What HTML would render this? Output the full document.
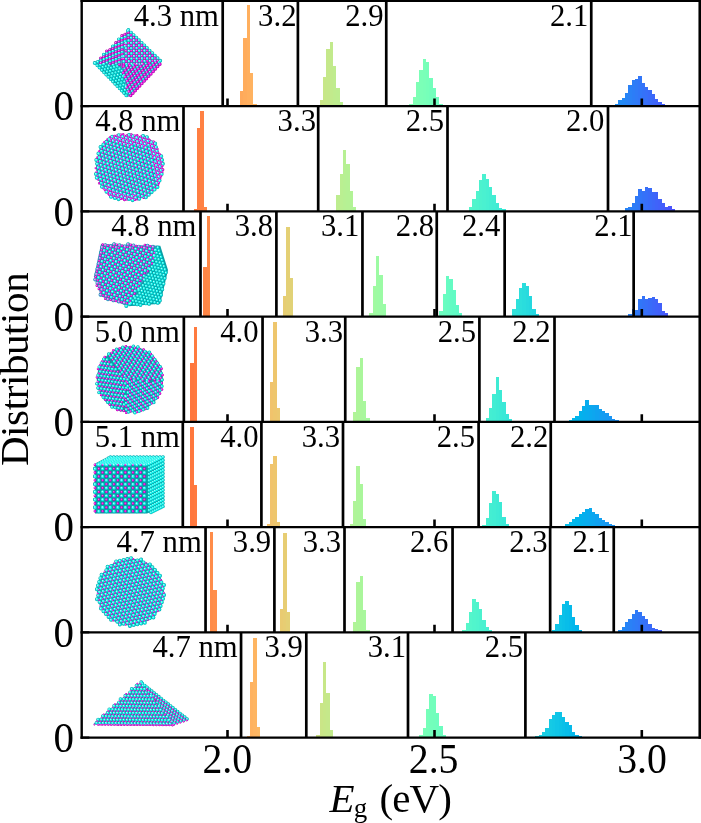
<!DOCTYPE html>
<html lang="en"><head><meta charset="utf-8"><title>Eg distribution</title>
<style>html,body{margin:0;padding:0;background:#fff}svg{display:block}text{font-family:"Liberation Serif","Times New Roman",serif;fill:#000}</style></head><body>
<svg width="701" height="823" viewBox="0 0 701 823">
<rect width="701" height="823" fill="#fff"/>
<g id="crystals">
<defs><path id="a0" d="M95.1 63.2h0M97.3 65.5h0M100.4 64.7h0M103.5 64h0M99.5 67.8h0M102.7 67h0M105.8 66.3h0M108.9 65.5h0M101.8 70.1h0M104.9 69.3h0M108 68.6h0M111.1 67.8h0M114.2 67h0M117.3 66.2h0M104 72.4h0M107.1 71.6h0M110.2 70.9h0M113.3 70.1h0M116.4 69.3h0M119.5 68.5h0M106.2 74.7h0M109.3 73.9h0M112.4 73.2h0M115.5 72.4h0M118.6 71.6h0M121.7 70.8h0M108.4 77h0M111.5 76.2h0M114.6 75.5h0M117.8 74.7h0M120.9 73.9h0M110.7 79.3h0M113.8 78.5h0M116.9 77.8h0M120 77h0M123.1 76.2h0M112.9 81.6h0M116 80.8h0M119.1 80.1h0M122.2 79.3h0M115.1 83.9h0M118.2 83.1h0M121.3 82.4h0M124.4 81.6h0M117.3 86.2h0M120.4 85.4h0M123.5 84.7h0M119.6 88.5h0M122.7 87.7h0M125.8 87h0M121.8 90.8h0M124.9 90h0M124 93.1h0M127.1 92.4h0M126.2 95.4h0"/><path id="a1" d="M94.6 62.9h0M97.7 61.7h0M100.7 60.4h0M103.9 63.8h0M103.8 59.2h0M106.9 62.6h0M103.7 54.6h0M106.8 58h0M110 61.3h0M113.1 64.7h0M106.8 53.4h0M109.9 56.7h0M113 60.1h0M116.2 63.5h0M109.8 52.1h0M113 55.5h0M116.1 58.9h0M119.2 62.2h0M112.9 50.9h0M116 54.2h0M119.2 57.6h0M112.8 46.3h0M115.9 49.6h0M119.1 53h0M122.2 56.4h0M115.9 45h0M119 48.4h0M122.1 51.8h0M118.9 43.8h0M122.1 47.2h0M118.8 39.2h0M122 42.6h0M125.1 45.9h0M121.9 38h0M125 41.3h0M125 36.7h0M127.9 30.9h0"/><path id="a2" d="M100.8 62.7h0M100.7 58.1h0M103.8 61.5h0M103.7 56.9h0M106.9 60.3h0M110 63.6h0M106.8 55.7h0M109.9 59h0M113.1 62.4h0M106.7 51h0M109.9 54.4h0M113 57.8h0M116.1 61.2h0M119.3 64.5h0M109.8 49.8h0M112.9 53.2h0M116.1 56.5h0M119.2 59.9h0M112.8 48.6h0M116 51.9h0M119.1 55.3h0M122.3 58.7h0M115.9 47.3h0M119 50.7h0M122.2 54.1h0M115.8 42.7h0M119 46.1h0M122.1 49.5h0M118.9 41.5h0M122 44.9h0M121.9 40.3h0M125.1 43.6h0M121.9 35.7h0M125 39h0M124.9 34.4h0"/><path id="a3" d="M128.4 29.9h0M131.1 32.5h0M128.5 35.1h0M133.7 35h0M131.2 37.7h0M128.6 40.4h0M126 43h0M136.4 37.6h0M133.8 40.3h0M131.2 42.9h0M128.7 45.6h0M126.1 48.3h0M139 40.2h0M136.5 42.8h0M133.9 45.5h0M131.3 48.2h0M128.8 50.8h0M126.2 53.5h0M123.6 56.2h0M141.7 42.8h0M139.1 45.4h0M136.6 48.1h0M134 50.7h0M131.4 53.4h0M128.9 56.1h0M126.3 58.7h0M123.7 61.4h0M144.4 45.3h0M141.8 48h0M139.2 50.6h0M136.7 53.3h0M134.1 56h0M131.5 58.6h0M128.9 61.3h0M126.4 64h0M147 47.9h0M144.5 50.6h0M141.9 53.2h0M139.3 55.9h0M136.7 58.5h0M134.2 61.2h0M131.6 63.9h0M149.7 50.5h0M147.1 53.1h0M144.6 55.8h0M142 58.4h0M139.4 61.1h0M136.8 63.8h0M152.4 53h0M149.8 55.7h0M147.2 58.4h0M144.6 61h0M142.1 63.7h0M155 55.6h0M152.4 58.3h0M149.9 60.9h0M157.7 58.2h0M155.1 60.8h0M160.3 60.7h0"/><path id="a4" d="M128.4 32.5h0M131.1 35.1h0M128.5 37.7h0M133.8 37.7h0M131.2 40.3h0M128.6 43h0M126.1 45.6h0M136.4 40.2h0M133.9 42.9h0M131.3 45.5h0M128.7 48.2h0M126.1 50.9h0M139.1 42.8h0M136.5 45.5h0M134 48.1h0M131.4 50.8h0M128.8 53.4h0M126.2 56.1h0M123.7 58.8h0M141.8 45.4h0M139.2 48h0M136.6 50.7h0M134 53.4h0M131.5 56h0M128.9 58.7h0M126.3 61.3h0M123.8 64h0M144.4 47.9h0M141.8 50.6h0M139.3 53.3h0M136.7 55.9h0M134.1 58.6h0M131.6 61.2h0M129 63.9h0M147.1 50.5h0M144.5 53.2h0M141.9 55.8h0M139.4 58.5h0M136.8 61.2h0M134.2 63.8h0M149.7 53.1h0M147.2 55.7h0M144.6 58.4h0M142 61.1h0M139.5 63.7h0M152.4 55.6h0M149.8 58.3h0M147.3 61h0M155.1 58.2h0M152.5 60.9h0M157.7 60.8h0"/><path id="a5" d="M129.7 93.6h0M127.7 89.5h0M131.9 91.1h0M125.8 85.4h0M130 87.1h0M134.2 88.7h0M128 83h0M132.2 84.7h0M136.4 86.3h0M126.1 78.9h0M130.3 80.6h0M134.5 82.2h0M138.7 83.9h0M124.1 74.9h0M128.3 76.5h0M132.5 78.2h0M136.7 79.8h0M140.9 81.5h0M126.4 72.4h0M130.6 74.1h0M134.8 75.8h0M139 77.4h0M143.2 79.1h0M124.4 68.4h0M128.6 70h0M132.8 71.7h0M137 73.3h0M141.2 75h0M145.4 76.7h0M126.7 66h0M130.9 67.6h0M135.1 69.3h0M139.3 70.9h0M143.5 72.6h0M147.7 74.2h0M133.1 65.2h0M137.3 66.9h0M141.5 68.5h0M145.7 70.2h0M149.9 71.8h0M139.6 64.4h0M143.8 66.1h0M148 67.8h0M152.2 69.4h0M146 63.7h0M150.2 65.3h0M154.4 67h0M152.5 62.9h0M156.7 64.6h0M158.9 62.2h0"/><path id="a6" d="M130.7 95.6h0M128.7 91.5h0M132.9 93.2h0M126.8 87.4h0M131 89.1h0M135.2 90.8h0M129 85h0M133.2 86.7h0M137.4 88.3h0M127.1 81h0M131.3 82.6h0M135.5 84.3h0M139.7 85.9h0M125.1 76.9h0M129.3 78.5h0M133.5 80.2h0M137.7 81.9h0M141.9 83.5h0M123.2 72.8h0M127.4 74.5h0M131.6 76.1h0M135.8 77.8h0M140 79.4h0M144.2 81.1h0M125.4 70.4h0M129.6 72.1h0M133.8 73.7h0M138 75.4h0M142.2 77h0M146.4 78.7h0M123.5 66.3h0M127.7 68h0M131.9 69.6h0M136.1 71.3h0M140.3 73h0M144.5 74.6h0M148.7 76.3h0M129.9 65.6h0M134.1 67.2h0M138.3 68.9h0M142.5 70.6h0M146.7 72.2h0M150.9 73.9h0M136.4 64.8h0M140.6 66.5h0M144.8 68.1h0M149 69.8h0M153.2 71.5h0M142.8 64.1h0M147 65.7h0M151.2 67.4h0M155.4 69h0M149.3 63.3h0M153.5 65h0M157.7 66.6h0M155.7 62.6h0M159.9 64.2h0"/></defs>
<polygon points="128.4,29.9 161.5,61.8 128.4,97.0 95.6,62.9" fill="#7a78d0"/>
<polygon points="95.0,63.2 121.0,66.4 128.1,97.6" fill="#09a2a8"/>
<g fill="none" stroke-linecap="round">
<use href="#a0" stroke="#09a2a8" stroke-width="3.6"/>
<use href="#a1" stroke="#09a2a8" stroke-width="3.6"/>
<use href="#a2" stroke="#a40aa4" stroke-width="3.2"/>
<use href="#a3" stroke="#09a2a8" stroke-width="3.7"/>
<use href="#a4" stroke="#a40aa4" stroke-width="3.2"/>
<use href="#a5" stroke="#09a2a8" stroke-width="3.1"/>
<use href="#a6" stroke="#a40aa4" stroke-width="3.5"/>
<use href="#a0" stroke="#12f4ec" stroke-width="2.5"/>
<use href="#a1" stroke="#12f4ec" stroke-width="2.5"/>
<use href="#a2" stroke="#ee0ce2" stroke-width="2.1"/>
<use href="#a3" stroke="#12f4ec" stroke-width="2.6"/>
<use href="#a4" stroke="#ee0ce2" stroke-width="2.1"/>
<use href="#a5" stroke="#12f4ec" stroke-width="2.0"/>
<use href="#a6" stroke="#ee0ce2" stroke-width="2.4"/>
<use href="#a0" transform="translate(-.3 -.3)" stroke="#b8fffa" stroke-width="1.2"/>
<use href="#a1" transform="translate(-.3 -.3)" stroke="#b8fffa" stroke-width="1.2"/>
<use href="#a2" transform="translate(-.3 -.3)" stroke="#ff98f4" stroke-width="1.1"/>
<use href="#a3" transform="translate(-.3 -.3)" stroke="#b8fffa" stroke-width="1.3"/>
<use href="#a4" transform="translate(-.3 -.3)" stroke="#ff98f4" stroke-width="1.1"/>
<use href="#a5" transform="translate(-.3 -.3)" stroke="#b8fffa" stroke-width="1.0"/>
<use href="#a6" transform="translate(-.3 -.3)" stroke="#ff98f4" stroke-width="1.2"/>
</g>
<defs><path id="b0" d="M96 174h0M96.8 177.8h0M96.4 160h0M97.2 163.8h0M98.1 167.6h0M98.9 171.4h0M99.7 175.2h0M100.5 179h0M101.3 182.9h0M102.1 186.7h0M98.5 153.5h0M99.3 157.4h0M100.1 161.2h0M100.9 165h0M101.8 168.8h0M102.6 172.6h0M103.4 176.4h0M104.2 180.2h0M105 184.1h0M105.8 187.9h0M106.6 191.7h0M100.6 147.1h0M101.4 150.9h0M102.2 154.7h0M103 158.6h0M103.8 162.4h0M104.7 166.2h0M105.5 170h0M106.3 173.8h0M107.1 177.6h0M107.9 181.5h0M108.7 185.3h0M109.5 189.1h0M110.3 192.9h0M111.1 196.7h0M103.5 144.5h0M104.3 148.3h0M105.1 152.1h0M105.9 156h0M106.7 159.8h0M107.6 163.6h0M108.4 167.4h0M109.2 171.2h0M110 175h0M110.8 178.8h0M111.6 182.7h0M112.4 186.5h0M113.2 190.3h0M114 194.1h0M114.9 197.9h0M106.4 141.9h0M107.2 145.7h0M108 149.5h0M108.8 153.3h0M109.6 157.2h0M110.5 161h0M111.3 164.8h0M112.1 168.6h0M112.9 172.4h0M113.7 176.2h0M114.5 180h0M115.3 183.9h0M116.1 187.7h0M116.9 191.5h0M117.8 195.3h0M118.6 199.1h0M109.3 139.3h0M110.1 143.1h0M110.9 146.9h0M111.7 150.7h0M112.5 154.5h0M113.4 158.4h0M114.2 162.2h0M115 166h0M115.8 169.8h0M116.6 173.6h0M117.4 177.4h0M118.2 181.3h0M119 185.1h0M119.8 188.9h0M120.7 192.7h0M121.5 196.5h0M112.2 136.7h0M113 140.5h0M113.8 144.3h0M114.6 148.1h0M115.4 151.9h0M116.3 155.8h0M117.1 159.6h0M117.9 163.4h0M118.7 167.2h0M119.5 171h0M120.3 174.8h0M121.1 178.6h0M121.9 182.5h0M122.7 186.3h0M123.5 190.1h0M124.4 193.9h0M125.2 197.7h0M115.9 137.9h0M116.7 141.7h0M117.5 145.5h0M118.3 149.3h0M119.1 153.1h0M120 157h0M120.8 160.8h0M121.6 164.6h0M122.4 168.4h0M123.2 172.2h0M124 176h0M124.8 179.8h0M125.6 183.7h0M126.4 187.5h0M127.3 191.3h0M128.1 195.1h0M128.9 198.9h0M118.8 135.3h0M119.6 139.1h0M120.4 142.9h0M121.2 146.7h0M122 150.5h0M122.9 154.4h0M123.7 158.2h0M124.5 162h0M125.3 165.8h0M126.1 169.6h0M126.9 173.4h0M127.7 177.2h0M128.5 181.1h0M129.3 184.9h0M130.2 188.7h0M131 192.5h0M131.8 196.3h0M132.6 200.1h0M122.5 136.5h0M123.3 140.3h0M124.1 144.1h0M124.9 147.9h0M125.8 151.7h0M126.6 155.6h0M127.4 159.4h0M128.2 163.2h0M129 167h0M129.8 170.8h0M130.6 174.6h0M131.4 178.4h0M132.2 182.3h0M133.1 186.1h0M133.9 189.9h0M134.7 193.7h0M135.5 197.5h0M126.2 137.7h0M127 141.5h0M127.8 145.3h0M128.7 149.1h0M129.5 152.9h0M130.3 156.8h0M131.1 160.6h0M131.9 164.4h0M132.7 168.2h0M133.5 172h0M134.3 175.8h0M135.1 179.6h0M136 183.5h0M136.8 187.3h0M137.6 191.1h0M138.4 194.9h0M139.2 198.7h0M129.1 135.1h0M129.9 138.9h0M130.7 142.7h0M131.6 146.5h0M132.4 150.3h0M133.2 154.2h0M134 158h0M134.8 161.8h0M135.6 165.6h0M136.4 169.4h0M137.2 173.2h0M138 177h0M138.9 180.9h0M139.7 184.7h0M140.5 188.5h0M141.3 192.3h0M142.1 196.1h0M132.8 136.3h0M133.6 140.1h0M134.5 143.9h0M135.3 147.7h0M136.1 151.5h0M136.9 155.4h0M137.7 159.2h0M138.5 163h0M139.3 166.8h0M140.1 170.6h0M140.9 174.4h0M141.7 178.2h0M142.6 182.1h0M143.4 185.9h0M144.2 189.7h0M145 193.5h0M145.8 197.3h0M136.5 137.5h0M137.3 141.3h0M138.2 145.1h0M139 148.9h0M139.8 152.7h0M140.6 156.6h0M141.4 160.4h0M142.2 164.2h0M143 168h0M143.8 171.8h0M144.6 175.6h0M145.5 179.5h0M146.3 183.3h0M147.1 187.1h0M147.9 190.9h0M148.7 194.7h0M140.2 138.7h0M141.1 142.5h0M141.9 146.3h0M142.7 150.1h0M143.5 154h0M144.3 157.8h0M145.1 161.6h0M145.9 165.4h0M146.7 169.2h0M147.5 173h0M148.4 176.8h0M149.2 180.7h0M150 184.5h0M150.8 188.3h0M151.6 192.1h0M143.1 136.1h0M144 139.9h0M144.8 143.7h0M145.6 147.5h0M146.4 151.3h0M147.2 155.2h0M148 159h0M148.8 162.8h0M149.6 166.6h0M150.4 170.4h0M151.3 174.2h0M152.1 178h0M152.9 181.9h0M153.7 185.7h0M154.5 189.5h0M146.9 137.3h0M147.7 141.1h0M148.5 144.9h0M149.3 148.7h0M150.1 152.5h0M150.9 156.4h0M151.7 160.2h0M152.5 164h0M153.3 167.8h0M154.2 171.6h0M155 175.4h0M155.8 179.3h0M156.6 183.1h0M157.4 186.9h0M151.4 142.3h0M152.2 146.1h0M153 149.9h0M153.8 153.8h0M154.6 157.6h0M155.4 161.4h0M156.2 165.2h0M157.1 169h0M157.9 172.8h0M158.7 176.6h0M159.5 180.5h0M155.1 143.5h0M155.9 147.3h0M156.7 151.1h0M157.5 155h0M158.3 158.8h0M159.1 162.6h0M159.9 166.4h0M160.8 170.2h0M161.6 174h0M161.2 156.2h0M162 160h0M162.8 163.8h0"/><path id="b1" d="M95.8 168.1h0M96.7 171.9h0M97.5 175.7h0M98.3 179.5h0M99.1 183.3h0M97.1 157.8h0M97.9 161.6h0M98.7 165.5h0M99.6 169.3h0M100.4 173.1h0M101.2 176.9h0M102 180.7h0M102.8 184.5h0M103.6 188.3h0M99.2 151.4h0M100 155.2h0M100.8 159h0M101.6 162.8h0M102.5 166.7h0M103.3 170.5h0M104.1 174.3h0M104.9 178.1h0M105.7 181.9h0M106.5 185.7h0M107.3 189.6h0M108.1 193.4h0M102.1 148.8h0M102.9 152.6h0M103.7 156.4h0M104.5 160.2h0M105.4 164.1h0M106.2 167.9h0M107 171.7h0M107.8 175.5h0M108.6 179.3h0M109.4 183.1h0M110.2 186.9h0M111 190.8h0M111.8 194.6h0M104.2 142.4h0M105 146.2h0M105.8 150h0M106.6 153.8h0M107.4 157.6h0M108.3 161.4h0M109.1 165.3h0M109.9 169.1h0M110.7 172.9h0M111.5 176.7h0M112.3 180.5h0M113.1 184.3h0M113.9 188.1h0M114.7 192h0M115.5 195.8h0M107.1 139.8h0M107.9 143.6h0M108.7 147.4h0M109.5 151.2h0M110.3 155h0M111.2 158.8h0M112 162.6h0M112.8 166.5h0M113.6 170.3h0M114.4 174.1h0M115.2 177.9h0M116 181.7h0M116.8 185.5h0M117.6 189.4h0M118.4 193.2h0M119.3 197h0M110 137.1h0M110.8 141h0M111.6 144.8h0M112.4 148.6h0M113.2 152.4h0M114 156.2h0M114.9 160h0M115.7 163.9h0M116.5 167.7h0M117.3 171.5h0M118.1 175.3h0M118.9 179.1h0M119.7 182.9h0M120.5 186.7h0M121.3 190.6h0M122.2 194.4h0M123 198.2h0M113.7 138.4h0M114.5 142.2h0M115.3 146h0M116.1 149.8h0M116.9 153.6h0M117.8 157.4h0M118.6 161.2h0M119.4 165.1h0M120.2 168.9h0M121 172.7h0M121.8 176.5h0M122.6 180.3h0M123.4 184.1h0M124.2 187.9h0M125.1 191.8h0M125.9 195.6h0M126.7 199.4h0M116.6 135.7h0M117.4 139.6h0M118.2 143.4h0M119 147.2h0M119.8 151h0M120.7 154.8h0M121.5 158.6h0M122.3 162.4h0M123.1 166.3h0M123.9 170.1h0M124.7 173.9h0M125.5 177.7h0M126.3 181.5h0M127.1 185.3h0M128 189.2h0M128.8 193h0M129.6 196.8h0M120.3 136.9h0M121.1 140.8h0M121.9 144.6h0M122.7 148.4h0M123.6 152.2h0M124.4 156h0M125.2 159.8h0M126 163.7h0M126.8 167.5h0M127.6 171.3h0M128.4 175.1h0M129.2 178.9h0M130 182.7h0M130.9 186.5h0M131.7 190.4h0M132.5 194.2h0M133.3 198h0M123.2 134.3h0M124 138.2h0M124.8 142h0M125.6 145.8h0M126.5 149.6h0M127.3 153.4h0M128.1 157.2h0M128.9 161h0M129.7 164.9h0M130.5 168.7h0M131.3 172.5h0M132.1 176.3h0M132.9 180.1h0M133.8 183.9h0M134.6 187.7h0M135.4 191.6h0M136.2 195.4h0M137 199.2h0M126.9 135.5h0M127.7 139.4h0M128.5 143.2h0M129.4 147h0M130.2 150.8h0M131 154.6h0M131.8 158.4h0M132.6 162.2h0M133.4 166.1h0M134.2 169.9h0M135 173.7h0M135.8 177.5h0M136.6 181.3h0M137.5 185.1h0M138.3 189h0M139.1 192.8h0M139.9 196.6h0M130.6 136.8h0M131.4 140.6h0M132.2 144.4h0M133.1 148.2h0M133.9 152h0M134.7 155.8h0M135.5 159.6h0M136.3 163.5h0M137.1 167.3h0M137.9 171.1h0M138.7 174.9h0M139.5 178.7h0M140.4 182.5h0M141.2 186.3h0M142 190.2h0M142.8 194h0M143.6 197.8h0M134.3 138h0M135.1 141.8h0M136 145.6h0M136.8 149.4h0M137.6 153.2h0M138.4 157h0M139.2 160.8h0M140 164.7h0M140.8 168.5h0M141.6 172.3h0M142.4 176.1h0M143.3 179.9h0M144.1 183.7h0M144.9 187.5h0M145.7 191.4h0M146.5 195.2h0M137.2 135.3h0M138 139.2h0M138.9 143h0M139.7 146.8h0M140.5 150.6h0M141.3 154.4h0M142.1 158.2h0M142.9 162h0M143.7 165.9h0M144.5 169.7h0M145.3 173.5h0M146.2 177.3h0M147 181.1h0M147.8 184.9h0M148.6 188.8h0M149.4 192.6h0M140.9 136.6h0M141.8 140.4h0M142.6 144.2h0M143.4 148h0M144.2 151.8h0M145 155.6h0M145.8 159.4h0M146.6 163.3h0M147.4 167.1h0M148.2 170.9h0M149.1 174.7h0M149.9 178.5h0M150.7 182.3h0M151.5 186.1h0M152.3 190h0M144.7 137.8h0M145.5 141.6h0M146.3 145.4h0M147.1 149.2h0M147.9 153h0M148.7 156.8h0M149.5 160.6h0M150.3 164.5h0M151.1 168.3h0M152 172.1h0M152.8 175.9h0M153.6 179.7h0M154.4 183.5h0M155.2 187.3h0M148.4 139h0M149.2 142.8h0M150 146.6h0M150.8 150.4h0M151.6 154.2h0M152.4 158h0M153.2 161.9h0M154 165.7h0M154.8 169.5h0M155.7 173.3h0M156.5 177.1h0M157.3 180.9h0M158.1 184.7h0M152.9 144h0M153.7 147.8h0M154.5 151.6h0M155.3 155.4h0M156.1 159.2h0M156.9 163.1h0M157.7 166.9h0M158.6 170.7h0M159.4 174.5h0M160.2 178.3h0M157.4 149h0M158.2 152.8h0M159 156.6h0M159.8 160.4h0M160.6 164.3h0M161.5 168.1h0M162.3 171.9h0"/><path id="b2" d="M105.1 190h0M108 187.4h0M108.8 191.2h0M109.6 195h0M112.5 192.4h0M113.3 196.2h0M116.2 193.6h0M117.1 197.4h0M120 194.8h0M120.8 198.7h0M111.5 138.8h0M123.7 196h0M124.5 199.9h0M114.4 136.2h0M115.2 140h0M127.4 197.2h0M118.1 137.4h0M118.9 141.2h0M131.1 198.5h0M121 134.8h0M121.8 138.6h0M122.6 142.4h0M134 195.8h0M134.8 199.7h0M124.7 136h0M125.5 139.8h0M126.3 143.6h0M128.4 137.2h0M129.2 141h0M130 144.8h0M131.3 134.6h0M132.1 138.4h0M132.9 142.2h0M135 135.8h0M135.8 139.6h0M136.7 143.4h0M138.7 137h0M139.6 140.8h0M140.4 144.6h0M142.5 138.2h0M143.3 142h0M144.1 145.9h0M146.2 139.4h0M147 143.2h0M149.9 140.6h0M150.7 144.4h0M151.5 148.3h0M152.3 152.1h0M153.1 155.9h0M154.7 163.5h0M155.5 167.3h0M156.4 171.2h0M157.2 175h0M158 178.8h0M158.8 182.6h0M153.6 141.8h0M154.4 145.7h0M155.2 149.5h0M156 153.3h0M156.8 157.1h0M157.6 160.9h0M158.4 164.7h0M159.3 168.5h0M160.1 172.4h0M160.9 176.2h0M159.7 154.5h0M160.5 158.3h0M161.3 162.1h0M162.2 165.9h0M163 169.7h0"/></defs>
<polygon points="112.5,135.7 129.0,134.8 145.4,136.8 154.6,143.4 162.0,160.2 162.4,169.9 159.2,184.4 149.9,194.9 137.7,199.6 124.1,199.8 110.9,196.2 101.4,186.9 96.5,174.7 95.9,163.1 99.5,149.6 105.2,141.2" fill="#2ca4c4"/>
<g fill="none" stroke-linecap="round">
<use href="#b0" stroke="#09a2a8" stroke-width="4.1"/>
<use href="#b1" stroke="#a40aa4" stroke-width="2.4"/>
<use href="#b2" stroke="#a40aa4" stroke-width="2.7"/>
<use href="#b0" stroke="#12f4ec" stroke-width="3.0"/>
<use href="#b1" stroke="#ee0ce2" stroke-width="1.6"/>
<use href="#b2" stroke="#ee0ce2" stroke-width="1.9"/>
<use href="#b0" transform="translate(-.3 -.3)" stroke="#b8fffa" stroke-width="1.4"/>
<use href="#b1" transform="translate(-.3 -.3)" stroke="#ff98f4" stroke-width="0.8"/>
<use href="#b2" transform="translate(-.3 -.3)" stroke="#ff98f4" stroke-width="1.0"/>
</g>
<defs><path id="c0" d="M100.5 294.8h0M95.2 279.6h0M97.4 282.9h0M99.5 286.2h0M101.6 289.5h0M103.7 292.7h0M105.9 296h0M108 299.3h0M96.4 274.2h0M98.5 277.5h0M100.6 280.8h0M102.8 284.1h0M104.9 287.3h0M107 290.6h0M109.1 293.9h0M111.3 297.1h0M113.4 300.4h0M97.5 268.9h0M99.7 272.1h0M101.8 275.4h0M103.9 278.7h0M106 281.9h0M108.2 285.2h0M110.3 288.5h0M112.4 291.7h0M114.5 295h0M116.7 298.3h0M118.8 301.6h0M98.7 263.5h0M100.8 266.7h0M102.9 270h0M105.1 273.3h0M107.2 276.5h0M109.3 279.8h0M111.4 283.1h0M113.6 286.4h0M115.7 289.6h0M117.8 292.9h0M119.9 296.2h0M122 299.4h0M124.2 302.7h0M126.3 306h0M99.8 258.1h0M102 261.3h0M104.1 264.6h0M106.2 267.9h0M108.3 271.1h0M110.5 274.4h0M112.6 277.7h0M114.7 281h0M116.8 284.2h0M118.9 287.5h0M121.1 290.8h0M123.2 294h0M125.3 297.3h0M127.4 300.6h0M129.6 303.9h0M101 252.7h0M103.1 255.9h0M105.2 259.2h0M107.3 262.5h0M109.5 265.7h0M111.6 269h0M113.7 272.3h0M115.8 275.6h0M118 278.8h0M120.1 282.1h0M122.2 285.4h0M124.3 288.6h0M126.5 291.9h0M128.6 295.2h0M130.7 298.5h0M102.1 247.3h0M104.2 250.5h0M106.4 253.8h0M108.5 257.1h0M110.6 260.4h0M112.7 263.6h0M114.9 266.9h0M117 270.2h0M119.1 273.4h0M121.2 276.7h0M123.4 280h0M125.5 283.2h0M127.6 286.5h0M129.7 289.8h0M131.9 293.1h0M134 296.3h0M105.4 245.1h0M107.5 248.4h0M109.6 251.7h0M111.8 255h0M113.9 258.2h0M116 261.5h0M118.1 264.8h0M120.3 268h0M122.4 271.3h0M124.5 274.6h0M126.6 277.9h0M128.8 281.1h0M130.9 284.4h0M133 287.7h0M135.1 290.9h0M110.8 246.3h0M112.9 249.6h0M115 252.8h0M117.2 256.1h0M119.3 259.4h0M121.4 262.6h0M123.5 265.9h0M125.7 269.2h0M127.8 272.5h0M129.9 275.7h0M132 279h0M134.2 282.3h0M136.3 285.5h0M138.4 288.8h0M114.1 244.2h0M116.2 247.4h0M118.3 250.7h0M120.4 254h0M122.6 257.3h0M124.7 260.5h0M126.8 263.8h0M128.9 267.1h0M131.1 270.3h0M133.2 273.6h0M135.3 276.9h0M137.4 280.1h0M139.5 283.4h0M119.5 245.3h0M121.6 248.6h0M123.7 251.9h0M125.8 255.1h0M128 258.4h0M130.1 261.7h0M132.2 264.9h0M134.3 268.2h0M136.4 271.5h0M138.6 274.8h0M140.7 278h0M124.9 246.5h0M127 249.7h0M129.1 253h0M131.2 256.3h0M133.3 259.5h0M135.5 262.8h0M137.6 266.1h0M139.7 269.4h0M141.8 272.6h0M144 275.9h0M128.1 244.3h0M130.2 247.6h0M132.4 250.9h0M134.5 254.2h0M136.6 257.4h0M138.7 260.7h0M140.9 264h0M143 267.2h0M145.1 270.5h0M133.5 245.5h0M135.6 248.8h0M137.8 252h0M139.9 255.3h0M142 258.6h0M144.1 261.8h0M146.3 265.1h0M148.4 268.4h0M138.9 246.6h0M141 249.9h0M143.2 253.2h0M145.3 256.4h0M147.4 259.7h0M149.5 263h0M144.3 247.8h0M146.4 251h0M148.6 254.3h0M150.7 257.6h0M152.8 260.9h0M147.6 245.7h0M149.7 248.9h0M151.8 252.2h0M153.9 255.5h0M153 246.8h0M155.1 250.1h0"/><path id="c1" d="M96.8 285.6h0M98.9 288.9h0M101 292.2h0M103.2 295.4h0M105.3 298.7h0M95.8 276.9h0M97.9 280.2h0M100.1 283.5h0M102.2 286.8h0M104.3 290h0M106.4 293.3h0M108.6 296.6h0M110.7 299.8h0M97 271.5h0M99.1 274.8h0M101.2 278.1h0M103.3 281.4h0M105.5 284.6h0M107.6 287.9h0M109.7 291.2h0M111.8 294.4h0M114 297.7h0M116.1 301h0M98.1 266.2h0M100.2 269.4h0M102.4 272.7h0M104.5 276h0M106.6 279.2h0M108.7 282.5h0M110.9 285.8h0M113 289h0M115.1 292.3h0M117.2 295.6h0M119.4 298.9h0M121.5 302.1h0M99.3 260.8h0M101.4 264h0M103.5 267.3h0M105.6 270.6h0M107.8 273.8h0M109.9 277.1h0M112 280.4h0M114.1 283.7h0M116.3 286.9h0M118.4 290.2h0M120.5 293.5h0M122.6 296.7h0M124.7 300h0M126.9 303.3h0M100.4 255.4h0M102.5 258.6h0M104.7 261.9h0M106.8 265.2h0M108.9 268.4h0M111 271.7h0M113.1 275h0M115.3 278.3h0M117.4 281.5h0M119.5 284.8h0M121.6 288.1h0M123.8 291.3h0M125.9 294.6h0M128 297.9h0M130.1 301.2h0M101.6 250h0M103.7 253.2h0M105.8 256.5h0M107.9 259.8h0M110 263.1h0M112.2 266.3h0M114.3 269.6h0M116.4 272.9h0M118.5 276.1h0M120.7 279.4h0M122.8 282.7h0M124.9 285.9h0M127 289.2h0M129.2 292.5h0M131.3 295.8h0M102.7 244.6h0M104.8 247.8h0M106.9 251.1h0M109.1 254.4h0M111.2 257.7h0M113.3 260.9h0M115.4 264.2h0M117.6 267.5h0M119.7 270.7h0M121.8 274h0M123.9 277.3h0M126.1 280.6h0M128.2 283.8h0M130.3 287.1h0M132.4 290.4h0M134.6 293.6h0M108.1 245.7h0M110.2 249h0M112.3 252.3h0M114.5 255.5h0M116.6 258.8h0M118.7 262.1h0M120.8 265.3h0M123 268.6h0M125.1 271.9h0M127.2 275.2h0M129.3 278.4h0M131.5 281.7h0M133.6 285h0M135.7 288.2h0M113.5 246.9h0M115.6 250.1h0M117.7 253.4h0M119.9 256.7h0M122 260h0M124.1 263.2h0M126.2 266.5h0M128.4 269.8h0M130.5 273h0M132.6 276.3h0M134.7 279.6h0M136.9 282.8h0M139 286.1h0M116.8 244.7h0M118.9 248h0M121 251.3h0M123.1 254.6h0M125.3 257.8h0M127.4 261.1h0M129.5 264.4h0M131.6 267.6h0M133.8 270.9h0M135.9 274.2h0M138 277.5h0M140.1 280.7h0M122.2 245.9h0M124.3 249.2h0M126.4 252.4h0M128.5 255.7h0M130.6 259h0M132.8 262.2h0M134.9 265.5h0M137 268.8h0M139.1 272.1h0M141.3 275.3h0M143.4 278.6h0M127.5 247h0M129.7 250.3h0M131.8 253.6h0M133.9 256.8h0M136 260.1h0M138.2 263.4h0M140.3 266.7h0M142.4 269.9h0M144.5 273.2h0M130.8 244.9h0M132.9 248.2h0M135.1 251.5h0M137.2 254.7h0M139.3 258h0M141.4 261.3h0M143.6 264.5h0M145.7 267.8h0M147.8 271.1h0M136.2 246.1h0M138.3 249.3h0M140.5 252.6h0M142.6 255.9h0M144.7 259.1h0M146.8 262.4h0M149 265.7h0M141.6 247.2h0M143.7 250.5h0M145.9 253.7h0M148 257h0M150.1 260.3h0M152.2 263.6h0M144.9 245.1h0M147 248.4h0M149.1 251.6h0M151.3 254.9h0M153.4 258.2h0M150.3 246.2h0M152.4 249.5h0M154.5 252.8h0"/><path id="c2" d="M100.5 294.8h0M95.2 279.6h0M97.4 282.9h0M99.5 286.2h0M101.6 289.5h0M105.9 296h0M108 299.3h0M96.4 274.2h0M113.4 300.4h0M97.5 268.9h0M118.8 301.6h0M98.7 263.5h0M124.2 302.7h0M99.8 258.1h0M101 252.7h0M102.1 247.3h0M105.4 245.1h0M110.8 246.3h0M114.1 244.2h0M116.2 247.4h0M119.5 245.3h0M124.9 246.5h0M128.1 244.3h0M130.2 247.6h0M133.5 245.5h0M138.9 246.6h0M144.3 247.8h0M147.6 245.7h0M153 246.8h0"/><path id="c3" d="M157.8 247.5h0M155.6 249.9h0M158.8 250.6h0M156.6 253h0M154.4 255.5h0M159.8 253.7h0M157.6 256.2h0M155.4 258.6h0M160.9 256.9h0M158.6 259.3h0M156.4 261.8h0M154.2 264.2h0M152 266.7h0M149.8 269.1h0M161.9 260h0M159.7 262.5h0M157.5 264.9h0M155.2 267.4h0M153 269.8h0M150.8 272.3h0M148.6 274.7h0M146.4 277.2h0M144.2 279.6h0M162.9 263.1h0M160.7 265.6h0M158.5 268h0M156.3 270.5h0M154.1 273h0M151.8 275.4h0M149.6 277.9h0M147.4 280.3h0M145.2 282.8h0M143 285.2h0M140.8 287.7h0M138.6 290.1h0M163.9 266.3h0M161.7 268.7h0M159.5 271.2h0M157.3 273.6h0M155.1 276.1h0M152.9 278.5h0M150.7 281h0M148.5 283.4h0M146.2 285.9h0M144 288.4h0M141.8 290.8h0M139.6 293.3h0M137.4 295.7h0M135.2 298.2h0M133 300.6h0M130.8 303.1h0M164.9 269.4h0M162.7 271.9h0M160.5 274.3h0M158.3 276.8h0M156.1 279.2h0M153.9 281.7h0M151.7 284.1h0M149.5 286.6h0M147.3 289h0M145.1 291.5h0M142.8 293.9h0M140.6 296.4h0M138.4 298.9h0M136.2 301.3h0M134 303.8h0M165.9 272.6h0M163.7 275h0M161.5 277.5h0M159.3 279.9h0M157.1 282.4h0M154.9 284.8h0M152.7 287.3h0M150.5 289.7h0M148.3 292.2h0M146.1 294.6h0M143.9 297.1h0M141.7 299.5h0M139.5 302h0M137.2 304.4h0M164.8 278.2h0M162.6 280.6h0M160.3 283.1h0M158.1 285.5h0M155.9 288h0M153.7 290.4h0M151.5 292.9h0M149.3 295.3h0M147.1 297.8h0M144.9 300.2h0M142.7 302.7h0M140.5 305.1h0M163.6 283.7h0M161.4 286.2h0M159.2 288.6h0M156.9 291.1h0M154.7 293.6h0M152.5 296h0M150.3 298.5h0M148.1 300.9h0M145.9 303.4h0M162.4 289.3h0M160.2 291.8h0M158 294.2h0M155.8 296.7h0M153.6 299.1h0M151.3 301.6h0M149.1 304h0M161.2 294.9h0M159 297.4h0M156.8 299.8h0M154.6 302.3h0M160 300.5h0M157.8 303h0"/></defs>
<polygon points="101.0,244.0 158.9,245.7 167.0,270.0 158.9,303.3 126.4,305.4 101.2,296.6 94.0,276.3" fill="#4a92cc"/>
<polygon points="155.9,245.7 160.3,245.8 168.0,270.1 160.3,303.7 128.6,306.2 139.3,288.2 152.9,263.6" fill="#09a2a8"/>
<g fill="none" stroke-linecap="round">
<use href="#c0" stroke="#09a2a8" stroke-width="3.9"/>
<use href="#c1" stroke="#a40aa4" stroke-width="2.6"/>
<use href="#c2" stroke="#a40aa4" stroke-width="2.8"/>
<use href="#c3" stroke="#09a2a8" stroke-width="3.7"/>
<use href="#c0" stroke="#12f4ec" stroke-width="2.8"/>
<use href="#c1" stroke="#ee0ce2" stroke-width="1.8"/>
<use href="#c2" stroke="#ee0ce2" stroke-width="2.0"/>
<use href="#c3" stroke="#12f4ec" stroke-width="2.6"/>
<use href="#c0" transform="translate(-.3 -.3)" stroke="#b8fffa" stroke-width="1.3"/>
<use href="#c1" transform="translate(-.3 -.3)" stroke="#ff98f4" stroke-width="0.9"/>
<use href="#c2" transform="translate(-.3 -.3)" stroke="#ff98f4" stroke-width="1.0"/>
<use href="#c3" transform="translate(-.3 -.3)" stroke="#b8fffa" stroke-width="1.3"/>
</g>
<defs><path id="d0" d="M126.2 377.7h0M130.6 378.5h0M135 379.3h0M123.5 374.1h0M127.9 374.9h0M132.3 375.7h0M136.8 376.5h0M141.2 377.4h0M145.6 378.2h0M150.1 379h0M154.5 379.8h0M159 380.7h0M120.8 370.4h0M125.2 371.3h0M129.7 372.1h0M134.1 372.9h0M138.5 373.7h0M143 374.6h0M147.4 375.4h0M151.8 376.2h0M156.3 377h0M160.7 377.9h0M118.1 366.8h0M122.5 367.6h0M127 368.5h0M131.4 369.3h0M135.8 370.1h0M140.3 370.9h0M144.7 371.8h0M149.1 372.6h0M153.6 373.4h0M158 374.3h0M162.5 375.1h0M115.4 363.2h0M119.8 364h0M124.3 364.8h0M128.7 365.7h0M133.2 366.5h0M137.6 367.3h0M142 368.1h0M146.5 369h0M150.9 369.8h0M155.3 370.6h0M159.8 371.5h0M112.7 359.6h0M117.2 360.4h0M121.6 361.2h0M126 362h0M130.5 362.9h0M134.9 363.7h0M139.3 364.5h0M143.8 365.3h0M148.2 366.2h0M152.6 367h0M157.1 367.8h0M161.5 368.7h0M110 355.9h0M114.5 356.8h0M118.9 357.6h0M123.3 358.4h0M127.8 359.2h0M132.2 360.1h0M136.6 360.9h0M141.1 361.7h0M145.5 362.5h0M150 363.4h0M154.4 364.2h0M158.8 365h0M111.8 353.1h0M116.2 354h0M120.7 354.8h0M125.1 355.6h0M129.5 356.4h0M134 357.3h0M138.4 358.1h0M142.8 358.9h0M147.3 359.8h0M151.7 360.6h0M156.1 361.4h0M113.5 350.3h0M118 351.2h0M122.4 352h0M126.8 352.8h0M131.3 353.6h0M135.7 354.5h0M140.1 355.3h0M144.6 356.1h0M149 357h0M153.5 357.8h0M119.7 348.4h0M124.2 349.2h0M128.6 350h0M133 350.8h0M137.5 351.7h0M141.9 352.5h0M146.3 353.3h0M150.8 354.2h0M125.9 346.4h0M130.3 347.2h0M134.8 348h0M139.2 348.9h0M143.6 349.7h0"/><path id="d1" d="M127.5 379.5h0M124.8 375.9h0M129.2 376.7h0M133.7 377.5h0M138.1 378.4h0M142.6 379.2h0M147 380h0M122.1 372.3h0M126.6 373.1h0M131 373.9h0M135.4 374.7h0M139.9 375.6h0M144.3 376.4h0M148.7 377.2h0M153.2 378h0M157.6 378.9h0M162.1 379.7h0M119.4 368.6h0M123.9 369.5h0M128.3 370.3h0M132.7 371.1h0M137.2 371.9h0M141.6 372.8h0M146.1 373.6h0M150.5 374.4h0M154.9 375.2h0M159.4 376.1h0M116.8 365h0M121.2 365.8h0M125.6 366.7h0M130.1 367.5h0M134.5 368.3h0M138.9 369.1h0M143.4 370h0M147.8 370.8h0M152.2 371.6h0M156.7 372.4h0M161.1 373.3h0M114.1 361.4h0M118.5 362.2h0M122.9 363h0M127.4 363.9h0M131.8 364.7h0M136.2 365.5h0M140.7 366.3h0M145.1 367.2h0M149.6 368h0M154 368.8h0M158.4 369.6h0M111.4 357.8h0M115.8 358.6h0M120.2 359.4h0M124.7 360.2h0M129.1 361.1h0M133.6 361.9h0M138 362.7h0M142.4 363.5h0M146.9 364.4h0M151.3 365.2h0M155.7 366h0M160.2 366.8h0M108.7 354.1h0M113.1 355h0M117.6 355.8h0M122 356.6h0M126.4 357.4h0M130.9 358.3h0M135.3 359.1h0M139.7 359.9h0M144.2 360.7h0M148.6 361.6h0M153 362.4h0M157.5 363.2h0M114.9 352.2h0M119.3 353h0M123.7 353.8h0M128.2 354.6h0M132.6 355.5h0M137.1 356.3h0M141.5 357.1h0M145.9 357.9h0M150.4 358.8h0M154.8 359.6h0M116.6 349.4h0M121.1 350.2h0M125.5 351h0M129.9 351.8h0M134.4 352.7h0M138.8 353.5h0M143.2 354.3h0M147.7 355.1h0M152.1 356h0M122.8 347.4h0M127.2 348.2h0M131.7 349h0M136.1 349.9h0M140.6 350.7h0M145 351.5h0M149.4 352.3h0M133.4 346.2h0M137.9 347.1h0"/><path id="d2" d="M127.6 382.7h0M131.8 381.2h0M129.8 385.2h0M127.8 389.2h0M134 383.6h0M132 387.6h0M130 391.7h0M128 395.7h0M126 399.8h0M138.3 382h0M136.2 386.1h0M134.2 390.1h0M132.2 394.1h0M130.2 398.2h0M128.2 402.2h0M126.2 406.2h0M142.5 380.4h0M140.5 384.5h0M138.4 388.5h0M136.4 392.6h0M134.4 396.6h0M132.4 400.6h0M130.4 404.7h0M128.4 408.7h0M126.3 412.7h0M144.7 382.9h0M142.7 386.9h0M140.7 391h0M138.6 395h0M136.6 399h0M134.6 403.1h0M132.6 407.1h0M130.6 411.2h0M148.9 381.3h0M146.9 385.3h0M144.9 389.4h0M142.9 393.4h0M140.8 397.5h0M138.8 401.5h0M136.8 405.5h0M134.8 409.6h0M151.1 383.8h0M149.1 387.8h0M147.1 391.8h0M145.1 395.9h0M143.1 399.9h0M141 403.9h0M139 408h0M137 412h0M155.3 382.2h0M153.3 386.2h0M151.3 390.3h0M149.3 394.3h0M147.3 398.3h0M145.3 402.4h0M143.2 406.4h0M141.2 410.4h0M157.6 384.6h0M155.5 388.7h0M153.5 392.7h0M151.5 396.7h0M149.5 400.8h0M147.5 404.8h0M145.5 408.9h0M161.8 383h0M159.8 387.1h0M157.7 391.1h0M155.7 395.2h0M153.7 399.2h0M151.7 403.2h0M162 389.5h0M160 393.6h0M157.9 397.6h0"/><path id="d3" d="M129.7 382h0M127.7 386h0M133.9 380.4h0M131.9 384.4h0M129.9 388.4h0M127.9 392.5h0M125.9 396.5h0M136.1 382.8h0M134.1 386.9h0M132.1 390.9h0M130.1 394.9h0M128.1 399h0M126.1 403h0M140.4 381.2h0M138.3 385.3h0M136.3 389.3h0M134.3 393.3h0M132.3 397.4h0M130.3 401.4h0M128.3 405.5h0M126.2 409.5h0M142.6 383.7h0M140.6 387.7h0M138.5 391.8h0M136.5 395.8h0M134.5 399.8h0M132.5 403.9h0M130.5 407.9h0M128.5 411.9h0M146.8 382.1h0M144.8 386.1h0M142.8 390.2h0M140.7 394.2h0M138.7 398.3h0M136.7 402.3h0M134.7 406.3h0M132.7 410.4h0M149 384.6h0M147 388.6h0M145 392.6h0M143 396.7h0M140.9 400.7h0M138.9 404.7h0M136.9 408.8h0M134.9 412.8h0M153.2 383h0M151.2 387h0M149.2 391h0M147.2 395.1h0M145.2 399.1h0M143.1 403.2h0M141.1 407.2h0M139.1 411.2h0M157.5 381.4h0M155.4 385.4h0M153.4 389.5h0M151.4 393.5h0M149.4 397.5h0M147.4 401.6h0M145.4 405.6h0M143.3 409.6h0M159.7 383.8h0M157.6 387.9h0M155.6 391.9h0M153.6 396h0M151.6 400h0M149.6 404h0M147.6 408.1h0M161.9 386.3h0M159.9 390.3h0M157.8 394.4h0M155.8 398.4h0M153.8 402.4h0"/><path id="d4" d="M97 377.3h0M98 381.7h0M99.1 386.1h0M100.1 390.5h0M101.2 394.9h0M98.1 369h0M99.2 373.4h0M100.2 377.8h0M101.3 382.2h0M102.3 386.6h0M103.4 391h0M104.4 395.3h0M105.5 399.7h0M100.4 365.1h0M101.4 369.5h0M102.5 373.9h0M103.5 378.2h0M104.6 382.6h0M105.6 387h0M106.7 391.4h0M107.7 395.8h0M108.8 400.2h0M109.8 404.6h0M102.6 361.2h0M103.6 365.5h0M104.7 369.9h0M105.7 374.3h0M106.8 378.7h0M107.8 383.1h0M108.9 387.5h0M109.9 391.9h0M111 396.3h0M112 400.7h0M113.1 405h0M104.8 357.2h0M105.9 361.6h0M106.9 366h0M108 370.4h0M109 374.8h0M110.1 379.2h0M111.1 383.6h0M112.2 387.9h0M113.2 392.3h0M114.2 396.7h0M115.3 401.1h0M116.3 405.5h0M117.4 409.9h0M109.1 362.1h0M110.2 366.5h0M111.2 370.9h0M112.3 375.2h0M113.3 379.6h0M114.4 384h0M115.4 388.4h0M116.5 392.8h0M117.5 397.2h0M118.6 401.6h0M119.6 406h0M120.7 410.3h0M113.4 366.9h0M114.5 371.3h0M115.5 375.7h0M116.6 380.1h0M117.6 384.5h0M118.7 388.9h0M119.7 393.3h0M120.8 397.6h0M121.8 402h0M122.9 406.4h0M123.9 410.8h0M117.8 371.8h0M118.8 376.2h0M119.9 380.5h0M120.9 384.9h0M122 389.3h0M123 393.7h0M124.1 398.1h0M122.1 376.6h0M123.1 381h0M124.2 385.4h0M125.2 389.8h0M126.4 381.5h0"/><path id="d5" d="M96.9 383.7h0M98 388.1h0M99 392.5h0M98.1 375.4h0M99.1 379.8h0M100.2 384.1h0M101.2 388.5h0M102.3 392.9h0M103.3 397.3h0M99.3 367h0M100.3 371.4h0M101.4 375.8h0M102.4 380.2h0M103.5 384.6h0M104.5 389h0M105.6 393.4h0M106.6 397.8h0M107.7 402.2h0M101.5 363.1h0M102.5 367.5h0M103.6 371.9h0M104.6 376.3h0M105.7 380.7h0M106.7 385.1h0M107.8 389.5h0M108.8 393.8h0M109.9 398.2h0M110.9 402.6h0M112 407h0M103.7 359.2h0M104.7 363.6h0M105.8 368h0M106.8 372.4h0M107.9 376.7h0M108.9 381.1h0M110 385.5h0M111 389.9h0M112.1 394.3h0M113.1 398.7h0M114.2 403.1h0M115.2 407.5h0M107 359.6h0M108 364h0M109.1 368.4h0M110.1 372.8h0M111.2 377.2h0M112.2 381.6h0M113.3 386h0M114.3 390.4h0M115.4 394.8h0M116.4 399.1h0M117.5 403.5h0M118.5 407.9h0M111.3 364.5h0M112.3 368.9h0M113.4 373.3h0M114.4 377.7h0M115.5 382.1h0M116.5 386.4h0M117.6 390.8h0M118.6 395.2h0M119.7 399.6h0M120.7 404h0M121.8 408.4h0M115.6 369.3h0M116.6 373.7h0M117.7 378.1h0M118.7 382.5h0M119.8 386.9h0M120.8 391.3h0M121.9 395.7h0M122.9 400.1h0M124 404.5h0M119.9 374.2h0M121 378.6h0M122 383h0M123.1 387.4h0M124.1 391.7h0M125.2 396.1h0M124.2 379h0M125.3 383.4h0M126.3 387.8h0"/></defs>
<polygon points="163.0,379.4 162.6,384.6 161.4,389.6 159.4,394.4 156.7,398.9 153.3,402.8 149.4,406.2 144.9,408.9 140.1,410.9 135.1,412.1 129.9,412.5 124.7,412.1 119.7,410.9 114.9,408.9 110.4,406.2 106.5,402.8 103.1,398.9 100.4,394.4 98.4,389.6 97.2,384.6 96.8,379.4 97.2,374.2 98.4,369.2 100.4,364.4 103.1,359.9 106.5,356.0 110.4,352.6 114.9,349.9 119.7,347.9 124.7,346.7 129.9,346.3 135.1,346.7 140.1,347.9 144.9,349.9 149.4,352.6 153.3,356.0 156.7,359.9 159.4,364.4 161.4,369.2 162.6,374.2" fill="#09a2a8"/>
<g fill="none" stroke-linecap="round">
<use href="#d0" stroke="#a40aa4" stroke-width="2.7"/>
<use href="#d1" stroke="#09a2a8" stroke-width="3.6"/>
<use href="#d2" stroke="#a40aa4" stroke-width="2.7"/>
<use href="#d3" stroke="#09a2a8" stroke-width="3.6"/>
<use href="#d4" stroke="#a40aa4" stroke-width="2.7"/>
<use href="#d5" stroke="#09a2a8" stroke-width="3.6"/>
<use href="#d0" stroke="#ee0ce2" stroke-width="2.0"/>
<use href="#d1" stroke="#12f4ec" stroke-width="2.5"/>
<use href="#d2" stroke="#ee0ce2" stroke-width="2.0"/>
<use href="#d3" stroke="#12f4ec" stroke-width="2.5"/>
<use href="#d4" stroke="#ee0ce2" stroke-width="2.0"/>
<use href="#d5" stroke="#12f4ec" stroke-width="2.5"/>
<use href="#d0" transform="translate(-.3 -.3)" stroke="#ff98f4" stroke-width="1.0"/>
<use href="#d1" transform="translate(-.3 -.3)" stroke="#b8fffa" stroke-width="1.2"/>
<use href="#d2" transform="translate(-.3 -.3)" stroke="#ff98f4" stroke-width="1.0"/>
<use href="#d3" transform="translate(-.3 -.3)" stroke="#b8fffa" stroke-width="1.2"/>
<use href="#d4" transform="translate(-.3 -.3)" stroke="#ff98f4" stroke-width="1.0"/>
<use href="#d5" transform="translate(-.3 -.3)" stroke="#b8fffa" stroke-width="1.2"/>
</g>
<defs><path id="e0" d="M97.2 464.4h0M99.1 463.4h0M101 462.3h0M102.9 461.3h0M104.8 460.2h0M106.7 459.2h0M108.6 458.1h0M110.5 457.1h0M100.5 464.4h0M102.4 463.4h0M104.3 462.3h0M106.2 461.3h0M108.1 460.2h0M110 459.2h0M111.9 458.1h0M113.8 457.1h0M103.8 464.4h0M105.7 463.4h0M107.6 462.3h0M109.5 461.3h0M111.4 460.2h0M113.3 459.2h0M115.2 458.1h0M117.1 457.1h0M107.1 464.4h0M109 463.4h0M110.9 462.3h0M112.8 461.3h0M114.7 460.2h0M116.6 459.2h0M118.5 458.1h0M120.4 457.1h0M110.4 464.4h0M112.3 463.4h0M114.2 462.3h0M116.1 461.3h0M118 460.2h0M119.9 459.2h0M121.8 458.1h0M123.7 457.1h0M113.7 464.4h0M115.6 463.4h0M117.5 462.3h0M119.4 461.3h0M121.3 460.2h0M123.2 459.2h0M125.1 458.1h0M127 457.1h0M117 464.4h0M118.9 463.4h0M120.8 462.3h0M122.7 461.3h0M124.6 460.2h0M126.5 459.2h0M128.4 458.1h0M130.3 457.1h0M120.3 464.4h0M122.2 463.4h0M124.1 462.3h0M126 461.3h0M127.9 460.2h0M129.8 459.2h0M131.7 458.1h0M133.6 457.1h0M123.6 464.4h0M125.5 463.4h0M127.4 462.3h0M129.3 461.3h0M131.2 460.2h0M133.1 459.2h0M135 458.1h0M136.9 457.1h0M126.9 464.4h0M128.8 463.4h0M130.7 462.3h0M132.6 461.3h0M134.5 460.2h0M136.4 459.2h0M138.3 458.1h0M140.2 457.1h0M130.2 464.4h0M132.1 463.4h0M134 462.3h0M135.9 461.3h0M137.8 460.2h0M139.7 459.2h0M141.6 458.1h0M143.5 457.1h0M133.5 464.4h0M135.4 463.4h0M137.3 462.3h0M139.2 461.3h0M141.1 460.2h0M143 459.2h0M144.9 458.1h0M146.8 457.1h0M136.8 464.4h0M138.7 463.4h0M140.6 462.3h0M142.5 461.3h0M144.4 460.2h0M146.3 459.2h0M148.2 458.1h0M150.1 457.1h0M140.1 464.4h0M142 463.4h0M143.9 462.3h0M145.8 461.3h0M147.7 460.2h0M149.6 459.2h0M151.5 458.1h0M153.4 457.1h0M143.4 464.4h0M145.3 463.4h0M147.2 462.3h0M149.1 461.3h0M151 460.2h0M152.9 459.2h0M154.8 458.1h0M156.7 457.1h0M146.7 464.4h0M148.6 463.4h0M150.5 462.3h0M152.4 461.3h0M154.3 460.2h0M156.2 459.2h0M158.1 458.1h0M160 457.1h0"/><path id="e1" d="M149 464h0M149 467.3h0M149 470.6h0M149 473.9h0M149 477.2h0M149 480.5h0M149 483.8h0M149 487.1h0M149 490.4h0M149 493.7h0M149 497h0M149 500.3h0M149 503.6h0M149 506.9h0M149 510.2h0M151 463h0M151 466.3h0M151 469.6h0M151 472.9h0M151 476.2h0M151 479.5h0M151 482.8h0M151 486.1h0M151 489.4h0M151 492.7h0M151 496h0M151 499.3h0M151 502.6h0M151 505.9h0M151 509.2h0M151 512.5h0M153 462h0M153 465.3h0M153 468.6h0M153 471.9h0M153 475.2h0M153 478.5h0M153 481.8h0M153 485.1h0M153 488.4h0M153 491.7h0M153 495h0M153 498.3h0M153 501.6h0M153 504.9h0M153 508.2h0M153 511.5h0M155 461h0M155 464.3h0M155 467.6h0M155 470.9h0M155 474.2h0M155 477.5h0M155 480.8h0M155 484.1h0M155 487.4h0M155 490.7h0M155 494h0M155 497.3h0M155 500.6h0M155 503.9h0M155 507.2h0M155 510.5h0M157 460h0M157 463.3h0M157 466.6h0M157 469.9h0M157 473.2h0M157 476.5h0M157 479.8h0M157 483.1h0M157 486.4h0M157 489.7h0M157 493h0M157 496.3h0M157 499.6h0M157 502.9h0M157 506.2h0M157 509.5h0M159 459h0M159 462.3h0M159 465.6h0M159 468.9h0M159 472.2h0M159 475.5h0M159 478.8h0M159 482.1h0M159 485.4h0M159 488.7h0M159 492h0M159 495.3h0M159 498.6h0M159 501.9h0M159 505.2h0M159 508.5h0M161 458h0M161 461.3h0M161 464.6h0M161 467.9h0M161 471.2h0M161 474.5h0M161 477.8h0M161 481.1h0M161 484.4h0M161 487.7h0M161 491h0M161 494.3h0M161 497.6h0M161 500.9h0M161 504.2h0M161 507.5h0M163 457h0M163 460.3h0M163 463.6h0M163 466.9h0M163 470.2h0M163 473.5h0M163 476.8h0M163 480.1h0M163 483.4h0M163 486.7h0M163 490h0M163 493.3h0M163 496.6h0M163 499.9h0M163 503.2h0M163 506.5h0"/><path id="e2" d="M95 468.7h0M95 476.4h0M95 484.2h0M95 491.9h0M95 499.6h0M95 507.4h0M98.8 464.8h0M98.8 472.5h0M98.8 480.3h0M98.8 488h0M98.8 495.8h0M98.8 503.5h0M98.8 511.2h0M102.6 468.7h0M102.6 476.4h0M102.6 484.2h0M102.6 491.9h0M102.6 499.6h0M102.6 507.4h0M106.4 464.8h0M106.4 472.5h0M106.4 480.3h0M106.4 488h0M106.4 495.8h0M106.4 503.5h0M106.4 511.2h0M110.2 468.7h0M110.2 476.4h0M110.2 484.2h0M110.2 491.9h0M110.2 499.6h0M110.2 507.4h0M114 464.8h0M114 472.5h0M114 480.3h0M114 488h0M114 495.8h0M114 503.5h0M114 511.2h0M117.8 468.7h0M117.8 476.4h0M117.8 484.2h0M117.8 491.9h0M117.8 499.6h0M117.8 507.4h0M121.6 464.8h0M121.6 472.5h0M121.6 480.3h0M121.6 488h0M121.6 495.8h0M121.6 503.5h0M121.6 511.2h0M125.4 468.7h0M125.4 476.4h0M125.4 484.2h0M125.4 491.9h0M125.4 499.6h0M125.4 507.4h0M129.2 464.8h0M129.2 472.5h0M129.2 480.3h0M129.2 488h0M129.2 495.8h0M129.2 503.5h0M129.2 511.2h0M133 468.7h0M133 476.4h0M133 484.2h0M133 491.9h0M133 499.6h0M133 507.4h0M136.8 464.8h0M136.8 472.5h0M136.8 480.3h0M136.8 488h0M136.8 495.8h0M136.8 503.5h0M136.8 511.2h0M140.6 468.7h0M140.6 476.4h0M140.6 484.2h0M140.6 491.9h0M140.6 499.6h0M140.6 507.4h0M144.4 464.8h0M144.4 472.5h0M144.4 480.3h0M144.4 488h0M144.4 495.8h0M144.4 503.5h0M144.4 511.2h0"/><path id="e3" d="M95 464.8h0M95 472.5h0M95 480.3h0M95 488h0M95 495.8h0M95 503.5h0M95 511.2h0M98.8 468.7h0M98.8 476.4h0M98.8 484.2h0M98.8 491.9h0M98.8 499.6h0M98.8 507.4h0M102.6 464.8h0M102.6 472.5h0M102.6 480.3h0M102.6 488h0M102.6 495.8h0M102.6 503.5h0M102.6 511.2h0M106.4 468.7h0M106.4 476.4h0M106.4 484.2h0M106.4 491.9h0M106.4 499.6h0M106.4 507.4h0M110.2 464.8h0M110.2 472.5h0M110.2 480.3h0M110.2 488h0M110.2 495.8h0M110.2 503.5h0M110.2 511.2h0M114 468.7h0M114 476.4h0M114 484.2h0M114 491.9h0M114 499.6h0M114 507.4h0M117.8 464.8h0M117.8 472.5h0M117.8 480.3h0M117.8 488h0M117.8 495.8h0M117.8 503.5h0M117.8 511.2h0M121.6 468.7h0M121.6 476.4h0M121.6 484.2h0M121.6 491.9h0M121.6 499.6h0M121.6 507.4h0M125.4 464.8h0M125.4 472.5h0M125.4 480.3h0M125.4 488h0M125.4 495.8h0M125.4 503.5h0M125.4 511.2h0M129.2 468.7h0M129.2 476.4h0M129.2 484.2h0M129.2 491.9h0M129.2 499.6h0M129.2 507.4h0M133 464.8h0M133 472.5h0M133 480.3h0M133 488h0M133 495.8h0M133 503.5h0M133 511.2h0M136.8 468.7h0M136.8 476.4h0M136.8 484.2h0M136.8 491.9h0M136.8 499.6h0M136.8 507.4h0M140.6 464.8h0M140.6 472.5h0M140.6 480.3h0M140.6 488h0M140.6 495.8h0M140.6 503.5h0M140.6 511.2h0M144.4 468.7h0M144.4 476.4h0M144.4 484.2h0M144.4 491.9h0M144.4 499.6h0M144.4 507.4h0"/></defs>
<polygon points="95.0,464.0 109.0,457.4 162.4,457.4 162.6,507.6 147.0,513.4 95.0,513.4" fill="#09a2a8"/>
<g fill="none" stroke-linecap="round">
<use href="#e0" stroke="#09a2a8" stroke-width="3.6"/>
<use href="#e1" stroke="#09a2a8" stroke-width="3.6"/>
<use href="#e2" stroke="#09a2a8" stroke-width="4.2"/>
<use href="#e3" stroke="#a40aa4" stroke-width="2.8"/>
<use href="#e0" stroke="#12f4ec" stroke-width="2.5"/>
<use href="#e1" stroke="#12f4ec" stroke-width="2.5"/>
<use href="#e2" stroke="#12f4ec" stroke-width="3.1"/>
<use href="#e3" stroke="#ee0ce2" stroke-width="2.0"/>
<use href="#e0" transform="translate(-.3 -.3)" stroke="#b8fffa" stroke-width="1.2"/>
<use href="#e1" transform="translate(-.3 -.3)" stroke="#b8fffa" stroke-width="1.2"/>
<use href="#e2" transform="translate(-.3 -.3)" stroke="#b8fffa" stroke-width="1.5"/>
<use href="#e3" transform="translate(-.3 -.3)" stroke="#ff98f4" stroke-width="1.0"/>
</g>
<defs><path id="f0" d="M101 608.5h0M103.5 611.3h0M106 614.1h0M108.6 616.9h0M111.1 619.8h0M97 599.2h0M99.6 602h0M102.1 604.9h0M104.7 607.7h0M107.2 610.5h0M109.8 613.3h0M112.3 616.2h0M114.8 619h0M117.4 621.8h0M119.9 624.6h0M98.2 595.6h0M100.8 598.4h0M103.3 601.2h0M105.8 604.1h0M108.4 606.9h0M110.9 609.7h0M113.5 612.5h0M116 615.4h0M118.6 618.2h0M121.1 621h0M123.6 623.8h0M96.9 589.2h0M99.4 592h0M101.9 594.8h0M104.5 597.6h0M107 600.5h0M109.6 603.3h0M112.1 606.1h0M114.7 608.9h0M117.2 611.8h0M119.7 614.6h0M122.3 617.4h0M124.8 620.2h0M127.4 623h0M129.9 625.9h0M98 585.5h0M100.6 588.4h0M103.1 591.2h0M105.7 594h0M108.2 596.8h0M110.7 599.7h0M113.3 602.5h0M115.8 605.3h0M118.4 608.1h0M120.9 611h0M123.5 613.8h0M126 616.6h0M128.5 619.4h0M131.1 622.3h0M133.6 625.1h0M99.2 581.9h0M101.7 584.8h0M104.3 587.6h0M106.8 590.4h0M109.4 593.2h0M111.9 596.1h0M114.5 598.9h0M117 601.7h0M119.5 604.5h0M122.1 607.3h0M124.6 610.2h0M127.2 613h0M129.7 615.8h0M132.3 618.6h0M134.8 621.5h0M137.3 624.3h0M100.4 578.3h0M102.9 581.1h0M105.5 584h0M108 586.8h0M110.5 589.6h0M113.1 592.4h0M115.6 595.3h0M118.2 598.1h0M120.7 600.9h0M123.3 603.7h0M125.8 606.6h0M128.3 609.4h0M130.9 612.2h0M133.4 615h0M136 617.9h0M138.5 620.7h0M141.1 623.5h0M101.6 574.7h0M104.1 577.5h0M106.6 580.4h0M109.2 583.2h0M111.7 586h0M114.3 588.8h0M116.8 591.6h0M119.3 594.5h0M121.9 597.3h0M124.4 600.1h0M127 602.9h0M129.5 605.8h0M132.1 608.6h0M134.6 611.4h0M137.1 614.2h0M139.7 617.1h0M142.2 619.9h0M144.8 622.7h0M105.3 573.9h0M107.8 576.7h0M110.4 579.6h0M112.9 582.4h0M115.4 585.2h0M118 588h0M120.5 590.9h0M123.1 593.7h0M125.6 596.5h0M128.2 599.3h0M130.7 602.2h0M133.2 605h0M135.8 607.8h0M138.3 610.6h0M140.9 613.4h0M143.4 616.3h0M146 619.1h0M106.4 570.3h0M109 573.1h0M111.5 575.9h0M114.1 578.8h0M116.6 581.6h0M119.2 584.4h0M121.7 587.2h0M124.2 590.1h0M126.8 592.9h0M129.3 595.7h0M131.9 598.5h0M134.4 601.4h0M137 604.2h0M139.5 607h0M142 609.8h0M144.6 612.7h0M147.1 615.5h0M149.7 618.3h0M107.6 566.7h0M110.2 569.5h0M112.7 572.3h0M115.2 575.2h0M117.8 578h0M120.3 580.8h0M122.9 583.6h0M125.4 586.5h0M128 589.3h0M130.5 592.1h0M133 594.9h0M135.6 597.7h0M138.1 600.6h0M140.7 603.4h0M143.2 606.2h0M145.8 609h0M148.3 611.9h0M150.8 614.7h0M153.4 617.5h0M111.3 565.9h0M113.9 568.7h0M116.4 571.5h0M119 574.4h0M121.5 577.2h0M124 580h0M126.6 582.8h0M129.1 585.7h0M131.7 588.5h0M134.2 591.3h0M136.8 594.1h0M139.3 597h0M141.8 599.8h0M144.4 602.6h0M146.9 605.4h0M149.5 608.3h0M152 611.1h0M154.6 613.9h0M115 565.1h0M117.6 567.9h0M120.1 570.8h0M122.7 573.6h0M125.2 576.4h0M127.8 579.2h0M130.3 582h0M132.8 584.9h0M135.4 587.7h0M137.9 590.5h0M140.5 593.3h0M143 596.2h0M145.6 599h0M148.1 601.8h0M150.6 604.6h0M153.2 607.5h0M155.7 610.3h0M116.2 561.5h0M118.8 564.3h0M121.3 567.1h0M123.9 570h0M126.4 572.8h0M128.9 575.6h0M131.5 578.4h0M134 581.3h0M136.6 584.1h0M139.1 586.9h0M141.7 589.7h0M144.2 592.6h0M146.7 595.4h0M149.3 598.2h0M151.8 601h0M154.4 603.8h0M156.9 606.7h0M159.4 609.5h0M119.9 560.7h0M122.5 563.5h0M125 566.3h0M127.6 569.2h0M130.1 572h0M132.7 574.8h0M135.2 577.6h0M137.7 580.5h0M140.3 583.3h0M142.8 586.1h0M145.4 588.9h0M147.9 591.8h0M150.5 594.6h0M153 597.4h0M155.5 600.2h0M158.1 603.1h0M160.6 605.9h0M123.7 559.9h0M126.2 562.7h0M128.7 565.6h0M131.3 568.4h0M133.8 571.2h0M136.4 574h0M138.9 576.9h0M141.5 579.7h0M144 582.5h0M146.5 585.3h0M149.1 588.1h0M151.6 591h0M154.2 593.8h0M156.7 596.6h0M159.3 599.4h0M161.8 602.3h0M127.4 559.1h0M129.9 561.9h0M132.5 564.8h0M135 567.6h0M137.5 570.4h0M140.1 573.2h0M142.6 576.1h0M145.2 578.9h0M147.7 581.7h0M150.3 584.5h0M152.8 587.4h0M155.3 590.2h0M157.9 593h0M160.4 595.8h0M163 598.7h0M131.1 558.3h0M133.6 561.2h0M136.2 564h0M138.7 566.8h0M141.3 569.6h0M143.8 572.4h0M146.3 575.3h0M148.9 578.1h0M151.4 580.9h0M154 583.7h0M156.5 586.6h0M159.1 589.4h0M161.6 592.2h0M164.1 595h0M137.4 560.4h0M139.9 563.2h0M142.4 566h0M145 568.8h0M147.5 571.7h0M150.1 574.5h0M152.6 577.3h0M155.2 580.1h0M157.7 583h0M160.2 585.8h0M162.8 588.6h0M141.1 559.6h0M143.6 562.4h0M146.2 565.2h0M148.7 568h0M151.2 570.9h0M153.8 573.7h0M156.3 576.5h0M158.9 579.3h0M161.4 582.2h0M164 585h0M149.9 564.4h0M152.4 567.3h0M155 570.1h0M157.5 572.9h0M160 575.7h0"/><path id="f1" d="M100.5 606.3h0M103 609.2h0M105.6 612h0M108.1 614.8h0M110.7 617.6h0M113.2 620.4h0M99.1 599.9h0M101.7 602.7h0M104.2 605.5h0M106.8 608.4h0M109.3 611.2h0M111.8 614h0M114.4 616.8h0M116.9 619.7h0M119.5 622.5h0M97.8 593.5h0M100.3 596.3h0M102.9 599.1h0M105.4 601.9h0M107.9 604.7h0M110.5 607.6h0M113 610.4h0M115.6 613.2h0M118.1 616h0M120.6 618.9h0M123.2 621.7h0M125.7 624.5h0M98.9 589.8h0M101.5 592.7h0M104 595.5h0M106.6 598.3h0M109.1 601.1h0M111.7 604h0M114.2 606.8h0M116.7 609.6h0M119.3 612.4h0M121.8 615.3h0M124.4 618.1h0M126.9 620.9h0M129.5 623.7h0M100.1 586.2h0M102.7 589h0M105.2 591.9h0M107.7 594.7h0M110.3 597.5h0M112.8 600.3h0M115.4 603.2h0M117.9 606h0M120.5 608.8h0M123 611.6h0M125.5 614.5h0M128.1 617.3h0M130.6 620.1h0M133.2 622.9h0M101.3 582.6h0M103.8 585.4h0M106.4 588.3h0M108.9 591.1h0M111.5 593.9h0M114 596.7h0M116.5 599.6h0M119.1 602.4h0M121.6 605.2h0M124.2 608h0M126.7 610.8h0M129.3 613.7h0M131.8 616.5h0M134.3 619.3h0M136.9 622.1h0M102.5 579h0M105 581.8h0M107.5 584.6h0M110.1 587.5h0M112.6 590.3h0M115.2 593.1h0M117.7 595.9h0M120.3 598.8h0M122.8 601.6h0M125.3 604.4h0M127.9 607.2h0M130.4 610.1h0M133 612.9h0M135.5 615.7h0M138.1 618.5h0M140.6 621.4h0M103.6 575.4h0M106.2 578.2h0M108.7 581h0M111.3 583.9h0M113.8 586.7h0M116.4 589.5h0M118.9 592.3h0M121.4 595.1h0M124 598h0M126.5 600.8h0M129.1 603.6h0M131.6 606.4h0M134.1 609.3h0M136.7 612.1h0M139.2 614.9h0M141.8 617.7h0M144.3 620.6h0M104.8 571.8h0M107.4 574.6h0M109.9 577.4h0M112.4 580.2h0M115 583.1h0M117.5 585.9h0M120.1 588.7h0M122.6 591.5h0M125.2 594.4h0M127.7 597.2h0M130.2 600h0M132.8 602.8h0M135.3 605.7h0M137.9 608.5h0M140.4 611.3h0M143 614.1h0M145.5 616.9h0M148 619.8h0M108.5 571h0M111.1 573.8h0M113.6 576.6h0M116.2 579.4h0M118.7 582.3h0M121.2 585.1h0M123.8 587.9h0M126.3 590.7h0M128.9 593.6h0M131.4 596.4h0M134 599.2h0M136.5 602h0M139 604.9h0M141.6 607.7h0M144.1 610.5h0M146.7 613.3h0M149.2 616.2h0M109.7 567.4h0M112.2 570.2h0M114.8 573h0M117.3 575.8h0M119.9 578.7h0M122.4 581.5h0M125 584.3h0M127.5 587.1h0M130 590h0M132.6 592.8h0M135.1 595.6h0M137.7 598.4h0M140.2 601.2h0M142.8 604.1h0M145.3 606.9h0M147.8 609.7h0M150.4 612.5h0M152.9 615.4h0M113.4 566.6h0M116 569.4h0M118.5 572.2h0M121 575h0M123.6 577.9h0M126.1 580.7h0M128.7 583.5h0M131.2 586.3h0M133.8 589.2h0M136.3 592h0M138.8 594.8h0M141.4 597.6h0M143.9 600.5h0M146.5 603.3h0M149 606.1h0M151.6 608.9h0M154.1 611.8h0M114.6 563h0M117.1 565.8h0M119.7 568.6h0M122.2 571.4h0M124.8 574.3h0M127.3 577.1h0M129.8 579.9h0M132.4 582.7h0M134.9 585.5h0M137.5 588.4h0M140 591.2h0M142.6 594h0M145.1 596.8h0M147.6 599.7h0M150.2 602.5h0M152.7 605.3h0M155.3 608.1h0M157.8 611h0M118.3 562.2h0M120.9 565h0M123.4 567.8h0M125.9 570.6h0M128.5 573.5h0M131 576.3h0M133.6 579.1h0M136.1 581.9h0M138.7 584.8h0M141.2 587.6h0M143.7 590.4h0M146.3 593.2h0M148.8 596.1h0M151.4 598.9h0M153.9 601.7h0M156.5 604.5h0M159 607.4h0M122 561.4h0M124.6 564.2h0M127.1 567h0M129.7 569.9h0M132.2 572.7h0M134.7 575.5h0M137.3 578.3h0M139.8 581.1h0M142.4 584h0M144.9 586.8h0M147.5 589.6h0M150 592.4h0M152.5 595.3h0M155.1 598.1h0M157.6 600.9h0M160.2 603.7h0M125.7 560.6h0M128.3 563.4h0M130.8 566.2h0M133.4 569.1h0M135.9 571.9h0M138.5 574.7h0M141 577.5h0M143.5 580.4h0M146.1 583.2h0M148.6 586h0M151.2 588.8h0M153.7 591.7h0M156.3 594.5h0M158.8 597.3h0M161.3 600.1h0M129.5 559.8h0M132 562.6h0M134.5 565.4h0M137.1 568.3h0M139.6 571.1h0M142.2 573.9h0M144.7 576.7h0M147.3 579.6h0M149.8 582.4h0M152.3 585.2h0M154.9 588h0M157.4 590.9h0M160 593.7h0M162.5 596.5h0M133.2 559h0M135.7 561.8h0M138.3 564.7h0M140.8 567.5h0M143.3 570.3h0M145.9 573.1h0M148.4 576h0M151 578.8h0M153.5 581.6h0M156.1 584.4h0M158.6 587.2h0M161.1 590.1h0M163.7 592.9h0M139.4 561h0M142 563.9h0M144.5 566.7h0M147.1 569.5h0M149.6 572.3h0M152.2 575.2h0M154.7 578h0M157.2 580.8h0M159.8 583.6h0M162.3 586.5h0M145.7 563.1h0M148.2 565.9h0M150.8 568.7h0M153.3 571.5h0M155.9 574.4h0M158.4 577.2h0M161 580h0"/></defs>
<polygon points="164.1,592.1 163.7,597.3 162.5,602.5 160.4,607.3 157.7,611.8 154.3,615.8 150.2,619.2 145.8,621.9 140.9,624.0 135.8,625.2 130.5,625.6 125.2,625.2 120.1,624.0 115.2,621.9 110.8,619.2 106.7,615.8 103.3,611.8 100.6,607.3 98.5,602.5 97.3,597.3 96.9,592.1 97.3,586.9 98.5,581.7 100.6,576.9 103.3,572.4 106.7,568.4 110.8,565.0 115.2,562.3 120.1,560.2 125.2,559.0 130.5,558.6 135.8,559.0 140.9,560.2 145.8,562.3 150.2,565.0 154.3,568.4 157.7,572.4 160.4,576.9 162.5,581.7 163.7,586.9" fill="#2ca4c4"/>
<g fill="none" stroke-linecap="round">
<use href="#f0" stroke="#09a2a8" stroke-width="4.0"/>
<use href="#f1" stroke="#a40aa4" stroke-width="2.1"/>
<use href="#f0" stroke="#12f4ec" stroke-width="2.9"/>
<use href="#f1" stroke="#ee0ce2" stroke-width="1.4"/>
<use href="#f0" transform="translate(-.3 -.3)" stroke="#b8fffa" stroke-width="1.4"/>
<use href="#f1" transform="translate(-.3 -.3)" stroke="#ff98f4" stroke-width="0.8"/>
</g>
<defs><path id="g0" d="M142.5 683.5h0M144.9 685.4h0M147.2 687.2h0M149.6 689.1h0M151.9 691h0M148.7 692h0M154.3 692.8h0M151.1 693.9h0M156.6 694.7h0M153.4 695.8h0M159 696.5h0M155.8 697.6h0M161.3 698.4h0M158.1 699.5h0M163.7 700.3h0M160.5 701.3h0M157.3 702.4h0M166 702.1h0M162.8 703.2h0M159.6 704.3h0M168.4 704h0M165.2 705.1h0M162 706.2h0M170.8 705.8h0M167.5 706.9h0M164.3 708h0M173.1 707.7h0M169.9 708.8h0M166.7 709.9h0M163.4 711h0M175.5 709.6h0M172.2 710.7h0M169 711.7h0M165.8 712.8h0M177.8 711.4h0M174.6 712.5h0M171.4 713.6h0M168.1 714.7h0M180.2 713.3h0M176.9 714.4h0M173.7 715.5h0M170.5 716.6h0M182.5 715.1h0M179.3 716.2h0M176.1 717.3h0M172.9 718.4h0M169.6 719.5h0M184.9 717h0M181.6 718.1h0M178.4 719.2h0M175.2 720.3h0M172 721.4h0M187.2 718.9h0M184 720h0M180.8 721h0M177.6 722.1h0M174.3 723.2h0"/><path id="g1" d="M146.8 688.7h0M149.1 690.6h0M151.5 692.4h0M153.8 694.3h0M156.2 696.2h0M153 697.2h0M158.6 698h0M155.3 699.1h0M160.9 699.9h0M157.7 701h0M163.3 701.7h0M160 702.8h0M165.6 703.6h0M162.4 704.7h0M159.2 705.8h0M168 705.5h0M164.7 706.5h0M161.5 707.6h0M170.3 707.3h0M167.1 708.4h0M163.9 709.5h0M172.7 709.2h0M169.5 710.3h0M166.2 711.4h0M175 711h0M171.8 712.1h0M168.6 713.2h0M165.4 714.3h0M177.4 712.9h0M174.2 714h0M170.9 715.1h0M167.7 716.2h0M179.7 714.8h0M176.5 715.8h0M173.3 716.9h0M170.1 718h0M182.1 716.6h0M178.9 717.7h0M175.6 718.8h0M172.4 719.9h0M184.4 718.5h0M181.2 719.6h0M178 720.7h0M174.8 721.7h0M186.8 720.3h0M183.6 721.4h0M180.3 722.5h0M177.1 723.6h0M173.9 724.7h0"/><path id="g2" d="M96.5 722.9h0M98.1 719.5h0M99.7 723h0M101.3 719.5h0M102.9 723h0M102.9 716.1h0M104.5 719.6h0M106.1 723h0M106.1 716.1h0M107.7 719.6h0M109.3 723h0M107.7 712.7h0M109.3 716.2h0M110.9 719.6h0M112.5 723.1h0M109.3 709.3h0M110.9 712.8h0M112.5 716.2h0M114.1 719.7h0M115.7 723.1h0M112.5 709.3h0M114.1 712.8h0M115.7 716.2h0M117.3 719.7h0M118.9 723.1h0M114.1 705.9h0M115.7 709.4h0M117.3 712.8h0M118.9 716.3h0M120.5 719.7h0M122.1 723.2h0M117.3 705.9h0M118.9 709.4h0M120.5 712.8h0M122.1 716.3h0M123.7 719.7h0M125.3 723.2h0M118.9 702.5h0M120.5 706h0M122.1 709.4h0M123.7 712.9h0M125.3 716.3h0M126.9 719.8h0M128.5 723.2h0M120.5 699.1h0M122.1 702.6h0M123.7 706h0M125.3 709.5h0M126.9 712.9h0M128.5 716.4h0M130.1 719.8h0M131.7 723.3h0M123.7 699.1h0M125.3 702.6h0M126.9 706h0M128.5 709.5h0M130.1 712.9h0M131.7 716.4h0M133.3 719.8h0M134.9 723.3h0M125.3 695.7h0M126.9 699.2h0M128.5 702.6h0M130.1 706.1h0M131.7 709.5h0M133.3 713h0M134.9 716.4h0M136.5 719.9h0M138.1 723.3h0M128.5 695.8h0M130.1 699.2h0M131.7 702.6h0M133.3 706.1h0M134.9 709.6h0M136.5 713h0M138.1 716.5h0M139.7 719.9h0M141.3 723.4h0M130.1 692.3h0M131.7 695.8h0M133.3 699.2h0M134.9 702.7h0M136.5 706.1h0M138.1 709.6h0M139.7 713h0M141.3 716.5h0M142.9 719.9h0M144.5 723.4h0M131.7 688.9h0M133.3 692.4h0M134.9 695.8h0M136.5 699.3h0M138.1 702.7h0M139.7 706.2h0M141.3 709.6h0M142.9 713.1h0M144.5 716.5h0M146.1 720h0M147.7 723.4h0M134.9 688.9h0M136.5 692.4h0M138.1 695.8h0M139.7 699.3h0M141.3 702.7h0M142.9 706.2h0M144.5 709.6h0M146.1 713.1h0M147.7 716.5h0M149.3 720h0M150.9 723.4h0M136.5 685.5h0M138.1 689h0M139.7 692.4h0M141.3 695.9h0M142.9 699.3h0M144.5 702.8h0M146.1 706.2h0M147.7 709.7h0M149.3 713.1h0M150.9 716.6h0M152.5 720h0M154.1 723.5h0M139.7 685.5h0M141.3 689h0M142.9 692.5h0M144.5 695.9h0M146.1 699.4h0M147.7 702.8h0M149.3 706.2h0M150.9 709.7h0M152.5 713.1h0M154.1 716.6h0M155.7 720h0M157.3 723.5h0M141.3 682.1h0M142.9 685.6h0M144.5 689h0M146.1 692.5h0M147.7 695.9h0M149.3 699.4h0M150.9 702.8h0M152.5 706.3h0M154.1 709.7h0M155.7 713.2h0M157.3 716.6h0M158.9 720.1h0M160.5 723.5h0M150.9 696h0M152.5 699.4h0M154.1 702.9h0M155.7 706.3h0M157.3 709.8h0M158.9 713.2h0M160.5 716.7h0M162.1 720.1h0M163.7 723.6h0M158.9 706.3h0M160.5 709.8h0M162.1 713.2h0M163.7 716.7h0M165.3 720.1h0M166.9 723.6h0M166.9 716.7h0M168.5 720.2h0M170.1 723.6h0"/><path id="g3" d="M97.3 721.2h0M98.9 724.7h0M100.5 721.2h0M102.1 724.7h0M102.1 717.8h0M103.7 721.3h0M105.3 724.7h0M103.7 714.4h0M105.3 717.9h0M106.9 721.3h0M108.5 724.8h0M106.9 714.4h0M108.5 717.9h0M110.1 721.3h0M111.7 724.8h0M108.5 711h0M110.1 714.5h0M111.7 717.9h0M113.3 721.4h0M114.9 724.8h0M111.7 711h0M113.3 714.5h0M114.9 718h0M116.5 721.4h0M118.1 724.9h0M113.3 707.6h0M114.9 711.1h0M116.5 714.5h0M118.1 718h0M119.7 721.4h0M121.3 724.9h0M114.9 704.2h0M116.5 707.7h0M118.1 711.1h0M119.7 714.6h0M121.3 718h0M122.9 721.5h0M124.5 724.9h0M118.1 704.2h0M119.7 707.7h0M121.3 711.1h0M122.9 714.6h0M124.5 718h0M126.1 721.5h0M127.7 724.9h0M119.7 700.8h0M121.3 704.3h0M122.9 707.7h0M124.5 711.2h0M126.1 714.6h0M127.7 718.1h0M129.3 721.5h0M130.9 725h0M122.9 700.9h0M124.5 704.3h0M126.1 707.8h0M127.7 711.2h0M129.3 714.6h0M130.9 718.1h0M132.5 721.5h0M134.1 725h0M124.5 697.4h0M126.1 700.9h0M127.7 704.3h0M129.3 707.8h0M130.9 711.2h0M132.5 714.7h0M134.1 718.1h0M135.7 721.6h0M137.3 725h0M126.1 694h0M127.7 697.5h0M129.3 700.9h0M130.9 704.4h0M132.5 707.8h0M134.1 711.3h0M135.7 714.7h0M137.3 718.2h0M138.9 721.6h0M140.5 725.1h0M129.3 694h0M130.9 697.5h0M132.5 700.9h0M134.1 704.4h0M135.7 707.8h0M137.3 711.3h0M138.9 714.7h0M140.5 718.2h0M142.1 721.6h0M143.7 725.1h0M130.9 690.6h0M132.5 694.1h0M134.1 697.5h0M135.7 701h0M137.3 704.4h0M138.9 707.9h0M140.5 711.3h0M142.1 714.8h0M143.7 718.2h0M145.3 721.7h0M146.9 725.1h0M134.1 690.6h0M135.7 694.1h0M137.3 697.5h0M138.9 701h0M140.5 704.4h0M142.1 707.9h0M143.7 711.3h0M145.3 714.8h0M146.9 718.2h0M148.5 721.7h0M150.1 725.1h0M135.7 687.2h0M137.3 690.7h0M138.9 694.1h0M140.5 697.6h0M142.1 701h0M143.7 704.5h0M145.3 707.9h0M146.9 711.4h0M148.5 714.8h0M150.1 718.3h0M151.7 721.7h0M153.3 725.2h0M137.3 683.8h0M138.9 687.3h0M140.5 690.7h0M142.1 694.2h0M143.7 697.6h0M145.3 701.1h0M146.9 704.5h0M148.5 708h0M150.1 711.4h0M151.7 714.9h0M153.3 718.3h0M154.9 721.8h0M156.5 725.2h0M140.5 683.8h0M142.1 687.3h0M143.7 690.7h0M145.3 694.2h0M146.9 697.6h0M148.5 701.1h0M150.1 704.5h0M151.7 708h0M153.3 711.4h0M154.9 714.9h0M156.5 718.3h0M158.1 721.8h0M159.7 725.2h0M146.9 690.8h0M148.5 694.2h0M150.1 697.7h0M151.7 701.1h0M153.3 704.6h0M154.9 708h0M156.5 711.5h0M158.1 714.9h0M159.7 718.4h0M161.3 721.8h0M162.9 725.3h0M154.9 701.1h0M156.5 704.6h0M158.1 708h0M159.7 711.5h0M161.3 714.9h0M162.9 718.4h0M164.5 721.8h0M166.1 725.3h0M162.9 711.5h0M164.5 715h0M166.1 718.4h0M167.7 721.9h0M169.3 725.3h0M170.9 721.9h0M172.5 725.4h0"/><path id="g4" d="M94.4 724.6h0M97.6 724.6h0M100.8 724.6h0M104 724.6h0M107.2 724.6h0M110.4 724.7h0M113.6 724.7h0M116.8 724.7h0M120 724.7h0M123.2 724.7h0M126.4 724.7h0M129.6 724.7h0M132.8 724.7h0M136 724.8h0M139.2 724.8h0M142.4 724.8h0M145.6 724.8h0M148.8 724.8h0M152 724.8h0M155.2 724.8h0M158.4 724.8h0M161.6 724.9h0M164.8 724.9h0M168 724.9h0M171.2 724.9h0"/></defs>
<polygon points="140.3,682.2 93.4,723.9 173.1,724.5 187.8,719.7" fill="#2ca4c4"/>
<g fill="none" stroke-linecap="round">
<use href="#g0" stroke="#09a2a8" stroke-width="3.3"/>
<use href="#g1" stroke="#a40aa4" stroke-width="2.2"/>
<use href="#g2" stroke="#09a2a8" stroke-width="3.7"/>
<use href="#g3" stroke="#a40aa4" stroke-width="2.0"/>
<use href="#g4" stroke="#a40aa4" stroke-width="1.8"/>
<use href="#g0" stroke="#12f4ec" stroke-width="2.2"/>
<use href="#g1" stroke="#ee0ce2" stroke-width="1.5"/>
<use href="#g2" stroke="#12f4ec" stroke-width="2.6"/>
<use href="#g3" stroke="#ee0ce2" stroke-width="1.3"/>
<use href="#g4" stroke="#ee0ce2" stroke-width="1.1"/>
<use href="#g0" transform="translate(-.3 -.3)" stroke="#b8fffa" stroke-width="1.1"/>
<use href="#g1" transform="translate(-.3 -.3)" stroke="#ff98f4" stroke-width="0.8"/>
<use href="#g2" transform="translate(-.3 -.3)" stroke="#b8fffa" stroke-width="1.3"/>
<use href="#g3" transform="translate(-.3 -.3)" stroke="#ff98f4" stroke-width="0.7"/>
<use href="#g4" transform="translate(-.3 -.3)" stroke="#ff98f4" stroke-width="0.6"/>
</g>
</g>
<g id="hist" shape-rendering="crispEdges">
<rect x="240.00" y="90.9" width="3.37" height="15.2" fill="#ffa95b"/>
<rect x="243.32" y="38.4" width="3.37" height="67.7" fill="#ffac5c"/>
<rect x="246.64" y="5.3" width="3.37" height="100.8" fill="#ffaf5e"/>
<rect x="249.96" y="73.3" width="3.37" height="32.8" fill="#ffb260"/>
<rect x="253.28" y="103.6" width="3.37" height="2.5" fill="#feb562"/>
<rect x="319.68" y="100.3" width="3.37" height="5.8" fill="#cae587"/>
<rect x="323.00" y="77.0" width="3.37" height="29.1" fill="#c7e788"/>
<rect x="326.32" y="48.5" width="3.37" height="57.6" fill="#c5e88a"/>
<rect x="329.64" y="41.8" width="3.37" height="64.3" fill="#c2ea8c"/>
<rect x="332.96" y="66.0" width="3.37" height="40.1" fill="#bfec8e"/>
<rect x="336.28" y="88.0" width="3.37" height="18.1" fill="#bded8f"/>
<rect x="339.60" y="102.0" width="3.37" height="4.1" fill="#baef91"/>
<rect x="409.32" y="104.0" width="3.37" height="2.1" fill="#83ffb2"/>
<rect x="412.64" y="97.3" width="3.37" height="8.8" fill="#81ffb4"/>
<rect x="415.96" y="82.0" width="3.37" height="24.1" fill="#7effb5"/>
<rect x="419.28" y="69.5" width="3.37" height="36.6" fill="#7bffb7"/>
<rect x="422.60" y="59.2" width="3.37" height="46.9" fill="#79ffb8"/>
<rect x="425.92" y="62.3" width="3.37" height="43.8" fill="#76ffb9"/>
<rect x="429.24" y="77.5" width="3.37" height="28.6" fill="#73febb"/>
<rect x="432.56" y="88.2" width="3.37" height="17.9" fill="#71febc"/>
<rect x="435.88" y="97.3" width="3.37" height="8.8" fill="#6efebe"/>
<rect x="439.20" y="104.2" width="3.37" height="1.9" fill="#6cfdbf"/>
<rect x="615.16" y="104.3" width="3.37" height="1.8" fill="#1f8ff4"/>
<rect x="618.48" y="100.2" width="3.37" height="5.9" fill="#228bf4"/>
<rect x="621.80" y="98.2" width="3.37" height="7.9" fill="#2488f5"/>
<rect x="625.12" y="92.8" width="3.37" height="13.3" fill="#2784f6"/>
<rect x="628.44" y="84.8" width="3.37" height="21.3" fill="#2a81f6"/>
<rect x="631.76" y="80.3" width="3.37" height="25.8" fill="#2c7df7"/>
<rect x="635.08" y="79.4" width="3.37" height="26.7" fill="#2f7af7"/>
<rect x="638.40" y="76.0" width="3.37" height="30.1" fill="#3176f8"/>
<rect x="641.72" y="83.4" width="3.37" height="22.7" fill="#3472f8"/>
<rect x="645.04" y="86.8" width="3.37" height="19.3" fill="#376ff9"/>
<rect x="648.36" y="90.3" width="3.37" height="15.8" fill="#396bf9"/>
<rect x="651.68" y="94.2" width="3.37" height="11.9" fill="#3c67f9"/>
<rect x="655.00" y="98.8" width="3.37" height="7.3" fill="#3f63fa"/>
<rect x="658.32" y="101.7" width="3.37" height="4.4" fill="#4160fa"/>
<rect x="661.64" y="104.3" width="3.37" height="1.8" fill="#445cfb"/>
<rect x="664.96" y="104.5" width="3.37" height="1.6" fill="#4658fb"/>
<rect x="193.52" y="209.3" width="3.37" height="2.0" fill="#ff7a3f"/>
<rect x="196.84" y="128.0" width="3.37" height="83.3" fill="#ff7e41"/>
<rect x="200.16" y="110.7" width="3.37" height="100.6" fill="#ff8143"/>
<rect x="203.48" y="206.9" width="3.37" height="4.4" fill="#ff8545"/>
<rect x="336.28" y="195.2" width="3.37" height="16.2" fill="#bded8f"/>
<rect x="339.60" y="173.5" width="3.37" height="37.8" fill="#baef91"/>
<rect x="342.92" y="149.5" width="3.37" height="61.8" fill="#b7f093"/>
<rect x="346.24" y="164.3" width="3.37" height="47.0" fill="#b5f194"/>
<rect x="349.56" y="190.6" width="3.37" height="20.8" fill="#b2f396"/>
<rect x="352.88" y="207.3" width="3.37" height="4.0" fill="#b0f498"/>
<rect x="469.08" y="207.3" width="3.37" height="4.0" fill="#54f6cb"/>
<rect x="472.40" y="199.0" width="3.37" height="12.3" fill="#51f5cc"/>
<rect x="475.72" y="190.6" width="3.37" height="20.8" fill="#4ff4cd"/>
<rect x="479.04" y="179.9" width="3.37" height="31.4" fill="#4cf2ce"/>
<rect x="482.36" y="174.2" width="3.37" height="37.2" fill="#4af1d0"/>
<rect x="485.68" y="179.2" width="3.37" height="32.2" fill="#47f0d1"/>
<rect x="489.00" y="187.2" width="3.37" height="24.2" fill="#44eed2"/>
<rect x="492.32" y="194.5" width="3.37" height="16.8" fill="#42edd3"/>
<rect x="495.64" y="202.5" width="3.37" height="8.8" fill="#3febd4"/>
<rect x="498.96" y="207.7" width="3.37" height="3.7" fill="#3cead5"/>
<rect x="502.28" y="209.3" width="3.37" height="2.0" fill="#3ae8d7"/>
<rect x="625.12" y="208.2" width="3.37" height="3.2" fill="#2784f6"/>
<rect x="628.44" y="206.6" width="3.37" height="4.8" fill="#2a81f6"/>
<rect x="631.76" y="202.7" width="3.37" height="8.7" fill="#2c7df7"/>
<rect x="635.08" y="196.3" width="3.37" height="15.0" fill="#2f7af7"/>
<rect x="638.40" y="188.8" width="3.37" height="22.5" fill="#3176f8"/>
<rect x="641.72" y="190.6" width="3.37" height="20.8" fill="#3472f8"/>
<rect x="645.04" y="187.2" width="3.37" height="24.2" fill="#376ff9"/>
<rect x="648.36" y="188.3" width="3.37" height="23.0" fill="#396bf9"/>
<rect x="651.68" y="191.7" width="3.37" height="19.7" fill="#3c67f9"/>
<rect x="655.00" y="192.2" width="3.37" height="19.2" fill="#3f63fa"/>
<rect x="658.32" y="199.0" width="3.37" height="12.3" fill="#4160fa"/>
<rect x="661.64" y="202.7" width="3.37" height="8.7" fill="#445cfb"/>
<rect x="664.96" y="207.0" width="3.37" height="4.3" fill="#4658fb"/>
<rect x="668.28" y="206.1" width="3.37" height="5.2" fill="#4954fb"/>
<rect x="671.60" y="209.3" width="3.37" height="2.0" fill="#4c50fc"/>
<rect x="203.48" y="266.5" width="3.37" height="50.1" fill="#ff8545"/>
<rect x="206.80" y="216.3" width="3.37" height="100.3" fill="#ff8847"/>
<rect x="283.16" y="296.0" width="3.37" height="20.6" fill="#e7cd73"/>
<rect x="286.48" y="226.8" width="3.37" height="89.8" fill="#e4d075"/>
<rect x="289.80" y="277.5" width="3.37" height="39.1" fill="#e1d277"/>
<rect x="369.48" y="312.8" width="3.37" height="3.8" fill="#a3f9a0"/>
<rect x="372.80" y="286.1" width="3.37" height="30.5" fill="#a0faa1"/>
<rect x="376.12" y="256.0" width="3.37" height="60.6" fill="#9dfba3"/>
<rect x="379.44" y="274.8" width="3.37" height="41.8" fill="#9bfba5"/>
<rect x="382.76" y="303.7" width="3.37" height="12.9" fill="#98fca6"/>
<rect x="386.08" y="315.9" width="3.37" height="0.7" fill="#95fda8"/>
<rect x="439.20" y="310.9" width="3.37" height="5.7" fill="#6cfdbf"/>
<rect x="442.52" y="293.5" width="3.37" height="23.1" fill="#69fdc0"/>
<rect x="445.84" y="275.6" width="3.37" height="41.0" fill="#66fcc2"/>
<rect x="449.16" y="279.0" width="3.37" height="37.6" fill="#64fbc3"/>
<rect x="452.48" y="290.0" width="3.37" height="26.6" fill="#61fbc4"/>
<rect x="455.80" y="305.2" width="3.37" height="11.4" fill="#5efac6"/>
<rect x="459.12" y="312.5" width="3.37" height="4.1" fill="#5cf9c7"/>
<rect x="512.24" y="308.9" width="3.37" height="7.7" fill="#32e2da"/>
<rect x="515.56" y="299.3" width="3.37" height="17.3" fill="#2fe1db"/>
<rect x="518.88" y="288.3" width="3.37" height="28.3" fill="#2ddfdc"/>
<rect x="522.20" y="282.9" width="3.37" height="33.7" fill="#2adddd"/>
<rect x="525.52" y="286.3" width="3.37" height="30.3" fill="#28dade"/>
<rect x="528.84" y="295.5" width="3.37" height="21.1" fill="#25d8df"/>
<rect x="532.16" y="308.9" width="3.37" height="7.7" fill="#22d6e0"/>
<rect x="535.48" y="313.9" width="3.37" height="2.7" fill="#20d4e1"/>
<rect x="628.44" y="314.3" width="3.37" height="2.3" fill="#2a81f6"/>
<rect x="631.76" y="309.3" width="3.37" height="7.3" fill="#2c7df7"/>
<rect x="635.08" y="309.9" width="3.37" height="6.7" fill="#2f7af7"/>
<rect x="638.40" y="299.3" width="3.37" height="17.3" fill="#3176f8"/>
<rect x="641.72" y="296.3" width="3.37" height="20.3" fill="#3472f8"/>
<rect x="645.04" y="298.5" width="3.37" height="18.1" fill="#376ff9"/>
<rect x="648.36" y="297.9" width="3.37" height="18.7" fill="#396bf9"/>
<rect x="651.68" y="297.3" width="3.37" height="19.3" fill="#3c67f9"/>
<rect x="655.00" y="299.3" width="3.37" height="17.3" fill="#3f63fa"/>
<rect x="658.32" y="303.3" width="3.37" height="13.3" fill="#4160fa"/>
<rect x="661.64" y="311.3" width="3.37" height="5.3" fill="#445cfb"/>
<rect x="664.96" y="313.3" width="3.37" height="3.3" fill="#4658fb"/>
<rect x="190.20" y="362.9" width="3.37" height="59.0" fill="#ff773d"/>
<rect x="193.52" y="327.2" width="3.37" height="94.7" fill="#ff7a3f"/>
<rect x="269.88" y="382.2" width="3.37" height="39.7" fill="#f1c36c"/>
<rect x="273.20" y="321.6" width="3.37" height="100.2" fill="#eec66d"/>
<rect x="276.52" y="408.0" width="3.37" height="13.9" fill="#ecc86f"/>
<rect x="352.88" y="411.9" width="3.37" height="10.0" fill="#b0f498"/>
<rect x="356.20" y="366.5" width="3.37" height="55.4" fill="#adf599"/>
<rect x="359.52" y="357.9" width="3.37" height="64.0" fill="#aaf69b"/>
<rect x="362.84" y="401.3" width="3.37" height="20.6" fill="#a8f79d"/>
<rect x="366.16" y="418.3" width="3.37" height="3.6" fill="#a5f89e"/>
<rect x="485.68" y="417.9" width="3.37" height="4.0" fill="#47f0d1"/>
<rect x="489.00" y="408.3" width="3.37" height="13.6" fill="#44eed2"/>
<rect x="492.32" y="393.9" width="3.37" height="28.0" fill="#42edd3"/>
<rect x="495.64" y="376.9" width="3.37" height="45.0" fill="#3febd4"/>
<rect x="498.96" y="389.5" width="3.37" height="32.4" fill="#3cead5"/>
<rect x="502.28" y="401.5" width="3.37" height="20.4" fill="#3ae8d7"/>
<rect x="505.60" y="414.3" width="3.37" height="7.6" fill="#37e6d8"/>
<rect x="508.92" y="419.3" width="3.37" height="2.6" fill="#35e4d9"/>
<rect x="568.68" y="420.0" width="3.37" height="1.9" fill="#06baea"/>
<rect x="572.00" y="418.2" width="3.37" height="3.7" fill="#03b7eb"/>
<rect x="575.32" y="415.9" width="3.37" height="6.0" fill="#00b5ec"/>
<rect x="578.64" y="410.8" width="3.37" height="11.1" fill="#02b2ec"/>
<rect x="581.96" y="405.8" width="3.37" height="16.1" fill="#05afed"/>
<rect x="585.28" y="399.5" width="3.37" height="22.4" fill="#08acee"/>
<rect x="588.60" y="404.7" width="3.37" height="17.2" fill="#0aa9ef"/>
<rect x="591.92" y="405.4" width="3.37" height="16.5" fill="#0da6ef"/>
<rect x="595.24" y="404.5" width="3.37" height="17.4" fill="#0fa2f0"/>
<rect x="598.56" y="408.8" width="3.37" height="13.1" fill="#129ff1"/>
<rect x="601.88" y="410.6" width="3.37" height="11.2" fill="#159cf1"/>
<rect x="605.20" y="412.6" width="3.37" height="9.2" fill="#1799f2"/>
<rect x="608.52" y="416.2" width="3.37" height="5.7" fill="#1a95f3"/>
<rect x="611.84" y="418.7" width="3.37" height="3.2" fill="#1d92f3"/>
<rect x="615.16" y="420.3" width="3.37" height="1.6" fill="#1f8ff4"/>
<rect x="190.20" y="427.1" width="3.37" height="100.0" fill="#ff773d"/>
<rect x="193.52" y="485.1" width="3.37" height="42.0" fill="#ff7a3f"/>
<rect x="266.56" y="523.6" width="3.37" height="3.5" fill="#f4c06a"/>
<rect x="269.88" y="464.4" width="3.37" height="62.7" fill="#f1c36c"/>
<rect x="273.20" y="456.4" width="3.37" height="70.7" fill="#eec66d"/>
<rect x="276.52" y="521.7" width="3.37" height="5.4" fill="#ecc86f"/>
<rect x="349.56" y="523.9" width="3.37" height="3.2" fill="#b2f396"/>
<rect x="352.88" y="500.5" width="3.37" height="26.6" fill="#b0f498"/>
<rect x="356.20" y="466.3" width="3.37" height="60.8" fill="#adf599"/>
<rect x="359.52" y="484.3" width="3.37" height="42.8" fill="#aaf69b"/>
<rect x="362.84" y="519.3" width="3.37" height="7.8" fill="#a8f79d"/>
<rect x="482.36" y="524.9" width="3.37" height="2.2" fill="#4af1d0"/>
<rect x="485.68" y="517.9" width="3.37" height="9.2" fill="#47f0d1"/>
<rect x="489.00" y="502.9" width="3.37" height="24.2" fill="#44eed2"/>
<rect x="492.32" y="490.9" width="3.37" height="36.2" fill="#42edd3"/>
<rect x="495.64" y="494.3" width="3.37" height="32.8" fill="#3febd4"/>
<rect x="498.96" y="502.3" width="3.37" height="24.8" fill="#3cead5"/>
<rect x="502.28" y="516.5" width="3.37" height="10.6" fill="#3ae8d7"/>
<rect x="505.60" y="524.3" width="3.37" height="2.8" fill="#37e6d8"/>
<rect x="565.36" y="524.3" width="3.37" height="2.8" fill="#08bde9"/>
<rect x="568.68" y="522.0" width="3.37" height="5.1" fill="#06baea"/>
<rect x="572.00" y="519.3" width="3.37" height="7.8" fill="#03b7eb"/>
<rect x="575.32" y="516.6" width="3.37" height="10.5" fill="#00b5ec"/>
<rect x="578.64" y="514.3" width="3.37" height="12.8" fill="#02b2ec"/>
<rect x="581.96" y="511.8" width="3.37" height="15.3" fill="#05afed"/>
<rect x="585.28" y="509.0" width="3.37" height="18.1" fill="#08acee"/>
<rect x="588.60" y="508.3" width="3.37" height="18.8" fill="#0aa9ef"/>
<rect x="591.92" y="512.0" width="3.37" height="15.1" fill="#0da6ef"/>
<rect x="595.24" y="514.3" width="3.37" height="12.8" fill="#0fa2f0"/>
<rect x="598.56" y="517.5" width="3.37" height="9.6" fill="#129ff1"/>
<rect x="601.88" y="520.0" width="3.37" height="7.1" fill="#159cf1"/>
<rect x="605.20" y="522.3" width="3.37" height="4.8" fill="#1799f2"/>
<rect x="608.52" y="523.9" width="3.37" height="3.2" fill="#1a95f3"/>
<rect x="611.84" y="525.0" width="3.37" height="2.1" fill="#1d92f3"/>
<rect x="210.12" y="532.3" width="3.37" height="100.1" fill="#ff8c49"/>
<rect x="213.44" y="590.0" width="3.37" height="42.4" fill="#ff8f4b"/>
<rect x="279.84" y="609.0" width="3.37" height="23.4" fill="#e9cb71"/>
<rect x="283.16" y="533.4" width="3.37" height="99.0" fill="#e7cd73"/>
<rect x="286.48" y="612.4" width="3.37" height="20.0" fill="#e4d075"/>
<rect x="352.88" y="622.0" width="3.37" height="10.4" fill="#b0f498"/>
<rect x="356.20" y="582.1" width="3.37" height="50.2" fill="#adf599"/>
<rect x="359.52" y="576.4" width="3.37" height="56.0" fill="#aaf69b"/>
<rect x="362.84" y="610.1" width="3.37" height="22.2" fill="#a8f79d"/>
<rect x="366.16" y="629.5" width="3.37" height="2.9" fill="#a5f89e"/>
<rect x="462.44" y="629.5" width="3.37" height="2.9" fill="#59f8c8"/>
<rect x="465.76" y="622.5" width="3.37" height="9.9" fill="#57f7ca"/>
<rect x="469.08" y="612.2" width="3.37" height="20.1" fill="#54f6cb"/>
<rect x="472.40" y="598.5" width="3.37" height="33.9" fill="#51f5cc"/>
<rect x="475.72" y="601.9" width="3.37" height="30.5" fill="#4ff4cd"/>
<rect x="479.04" y="609.0" width="3.37" height="23.4" fill="#4cf2ce"/>
<rect x="482.36" y="620.4" width="3.37" height="12.0" fill="#4af1d0"/>
<rect x="485.68" y="626.6" width="3.37" height="5.8" fill="#47f0d1"/>
<rect x="489.00" y="630.0" width="3.37" height="2.4" fill="#44eed2"/>
<rect x="552.08" y="629.5" width="3.37" height="2.9" fill="#13c8e6"/>
<rect x="555.40" y="623.8" width="3.37" height="8.6" fill="#10c5e7"/>
<rect x="558.72" y="615.2" width="3.37" height="17.1" fill="#0dc3e7"/>
<rect x="562.04" y="604.2" width="3.37" height="28.1" fill="#0bc0e8"/>
<rect x="565.36" y="600.8" width="3.37" height="31.6" fill="#08bde9"/>
<rect x="568.68" y="605.3" width="3.37" height="27.1" fill="#06baea"/>
<rect x="572.00" y="617.0" width="3.37" height="15.4" fill="#03b7eb"/>
<rect x="575.32" y="624.7" width="3.37" height="7.6" fill="#00b5ec"/>
<rect x="578.64" y="630.0" width="3.37" height="2.4" fill="#02b2ec"/>
<rect x="618.48" y="630.0" width="3.37" height="2.4" fill="#228bf4"/>
<rect x="621.80" y="627.3" width="3.37" height="5.1" fill="#2488f5"/>
<rect x="625.12" y="622.0" width="3.37" height="10.4" fill="#2784f6"/>
<rect x="628.44" y="618.6" width="3.37" height="13.8" fill="#2a81f6"/>
<rect x="631.76" y="613.6" width="3.37" height="18.8" fill="#2c7df7"/>
<rect x="635.08" y="609.9" width="3.37" height="22.5" fill="#2f7af7"/>
<rect x="638.40" y="612.2" width="3.37" height="20.1" fill="#3176f8"/>
<rect x="641.72" y="615.6" width="3.37" height="16.8" fill="#3472f8"/>
<rect x="645.04" y="619.0" width="3.37" height="13.4" fill="#376ff9"/>
<rect x="648.36" y="623.6" width="3.37" height="8.8" fill="#396bf9"/>
<rect x="651.68" y="627.7" width="3.37" height="4.6" fill="#3c67f9"/>
<rect x="655.00" y="629.3" width="3.37" height="3.1" fill="#3f63fa"/>
<rect x="658.32" y="630.3" width="3.37" height="2.1" fill="#4160fa"/>
<rect x="246.64" y="735.7" width="3.37" height="1.9" fill="#ffaf5e"/>
<rect x="249.96" y="681.8" width="3.37" height="55.8" fill="#ffb260"/>
<rect x="253.28" y="637.5" width="3.37" height="100.1" fill="#feb562"/>
<rect x="256.60" y="727.0" width="3.37" height="10.6" fill="#fcb864"/>
<rect x="316.36" y="734.5" width="3.37" height="3.1" fill="#cce385"/>
<rect x="319.68" y="702.6" width="3.37" height="35.0" fill="#cae587"/>
<rect x="323.00" y="661.5" width="3.37" height="76.1" fill="#c7e788"/>
<rect x="326.32" y="692.8" width="3.37" height="44.8" fill="#c5e88a"/>
<rect x="329.64" y="729.7" width="3.37" height="7.9" fill="#c2ea8c"/>
<rect x="419.28" y="735.0" width="3.37" height="2.6" fill="#7bffb7"/>
<rect x="422.60" y="727.5" width="3.37" height="10.1" fill="#79ffb8"/>
<rect x="425.92" y="709.2" width="3.37" height="28.4" fill="#76ffb9"/>
<rect x="429.24" y="693.9" width="3.37" height="43.7" fill="#73febb"/>
<rect x="432.56" y="696.2" width="3.37" height="41.4" fill="#71febc"/>
<rect x="435.88" y="712.9" width="3.37" height="24.7" fill="#6efebe"/>
<rect x="439.20" y="725.9" width="3.37" height="11.7" fill="#6cfdbf"/>
<rect x="442.52" y="734.5" width="3.37" height="3.1" fill="#69fdc0"/>
<rect x="535.48" y="735.6" width="3.37" height="2.0" fill="#20d4e1"/>
<rect x="538.80" y="735.0" width="3.37" height="2.6" fill="#1dd2e2"/>
<rect x="542.12" y="732.0" width="3.37" height="5.6" fill="#1acfe3"/>
<rect x="545.44" y="728.2" width="3.37" height="9.4" fill="#18cde4"/>
<rect x="548.76" y="718.6" width="3.37" height="19.0" fill="#15cae5"/>
<rect x="552.08" y="714.9" width="3.37" height="22.7" fill="#13c8e6"/>
<rect x="555.40" y="712.2" width="3.37" height="25.4" fill="#10c5e7"/>
<rect x="558.72" y="711.5" width="3.37" height="26.1" fill="#0dc3e7"/>
<rect x="562.04" y="717.2" width="3.37" height="20.4" fill="#0bc0e8"/>
<rect x="565.36" y="722.4" width="3.37" height="15.2" fill="#08bde9"/>
<rect x="568.68" y="725.4" width="3.37" height="12.2" fill="#06baea"/>
<rect x="572.00" y="732.0" width="3.37" height="5.6" fill="#03b7eb"/>
<rect x="575.32" y="735.0" width="3.37" height="2.6" fill="#00b5ec"/>
<rect x="578.64" y="735.8" width="3.37" height="1.8" fill="#02b2ec"/>
</g>
<g id="axes" stroke="#000" stroke-width="2.1" fill="none">
<line x1="80.50" x2="701.15" y1="0.85" y2="0.85"/>
<line x1="80.50" x2="701.15" y1="106.10" y2="106.10"/>
<line x1="80.50" x2="701.15" y1="211.35" y2="211.35"/>
<line x1="80.50" x2="701.15" y1="316.60" y2="316.60"/>
<line x1="80.50" x2="701.15" y1="421.85" y2="421.85"/>
<line x1="80.50" x2="701.15" y1="527.10" y2="527.10"/>
<line x1="80.50" x2="701.15" y1="632.35" y2="632.35"/>
<line x1="80.50" x2="701.15" y1="737.60" y2="737.60"/>
<line x1="81.7" x2="81.7" y1="0" y2="738.65" stroke-width="2.4"/>
<line x1="699.8" x2="699.8" y1="0" y2="738.65" stroke-width="2.7"/>
<line x1="222.70" x2="222.70" y1="0.85" y2="106.10" stroke-width="2.7"/>
<line x1="297.90" x2="297.90" y1="0.85" y2="106.10" stroke-width="2.7"/>
<line x1="386.25" x2="386.25" y1="0.85" y2="106.10" stroke-width="2.7"/>
<line x1="591.25" x2="591.25" y1="0.85" y2="106.10" stroke-width="2.7"/>
<line x1="183.50" x2="183.50" y1="106.10" y2="211.35" stroke-width="2.7"/>
<line x1="318.20" x2="318.20" y1="106.10" y2="211.35" stroke-width="2.7"/>
<line x1="447.50" x2="447.50" y1="106.10" y2="211.35" stroke-width="2.7"/>
<line x1="608.00" x2="608.00" y1="106.10" y2="211.35" stroke-width="2.7"/>
<line x1="200.50" x2="200.50" y1="211.35" y2="316.60" stroke-width="2.7"/>
<line x1="276.40" x2="276.40" y1="211.35" y2="316.60" stroke-width="2.7"/>
<line x1="362.45" x2="362.45" y1="211.35" y2="316.60" stroke-width="2.7"/>
<line x1="436.75" x2="436.75" y1="211.35" y2="316.60" stroke-width="2.7"/>
<line x1="504.65" x2="504.65" y1="211.35" y2="316.60" stroke-width="2.7"/>
<line x1="633.65" x2="633.65" y1="211.35" y2="316.60" stroke-width="2.7"/>
<line x1="183.85" x2="183.85" y1="316.60" y2="421.85" stroke-width="2.7"/>
<line x1="262.55" x2="262.55" y1="316.60" y2="421.85" stroke-width="2.7"/>
<line x1="345.25" x2="345.25" y1="316.60" y2="421.85" stroke-width="2.7"/>
<line x1="479.40" x2="479.40" y1="316.60" y2="421.85" stroke-width="2.7"/>
<line x1="554.50" x2="554.50" y1="316.60" y2="421.85" stroke-width="2.7"/>
<line x1="182.80" x2="182.80" y1="421.85" y2="527.10" stroke-width="2.7"/>
<line x1="261.40" x2="261.40" y1="421.85" y2="527.10" stroke-width="2.7"/>
<line x1="343.00" x2="343.00" y1="421.85" y2="527.10" stroke-width="2.7"/>
<line x1="478.60" x2="478.60" y1="421.85" y2="527.10" stroke-width="2.7"/>
<line x1="550.75" x2="550.75" y1="421.85" y2="527.10" stroke-width="2.7"/>
<line x1="205.55" x2="205.55" y1="527.10" y2="632.35" stroke-width="2.7"/>
<line x1="274.40" x2="274.40" y1="527.10" y2="632.35" stroke-width="2.7"/>
<line x1="344.50" x2="344.50" y1="527.10" y2="632.35" stroke-width="2.7"/>
<line x1="452.55" x2="452.55" y1="527.10" y2="632.35" stroke-width="2.7"/>
<line x1="550.15" x2="550.15" y1="527.10" y2="632.35" stroke-width="2.7"/>
<line x1="613.75" x2="613.75" y1="527.10" y2="632.35" stroke-width="2.7"/>
<line x1="241.05" x2="241.05" y1="632.35" y2="737.60" stroke-width="2.7"/>
<line x1="306.30" x2="306.30" y1="632.35" y2="737.60" stroke-width="2.7"/>
<line x1="408.00" x2="408.00" y1="632.35" y2="737.60" stroke-width="2.7"/>
<line x1="525.40" x2="525.40" y1="632.35" y2="737.60" stroke-width="2.7"/>
<line x1="227.5" x2="227.5" y1="98.50" y2="106.10" stroke-width="2.6"/>
<line x1="434.5" x2="434.5" y1="98.50" y2="106.10" stroke-width="2.6"/>
<line x1="641.8" x2="641.8" y1="98.50" y2="106.10" stroke-width="2.6"/>
<line x1="81.7" x2="89.3" y1="106.10" y2="106.10"/>
<line x1="227.5" x2="227.5" y1="203.75" y2="211.35" stroke-width="2.6"/>
<line x1="434.5" x2="434.5" y1="203.75" y2="211.35" stroke-width="2.6"/>
<line x1="641.8" x2="641.8" y1="203.75" y2="211.35" stroke-width="2.6"/>
<line x1="81.7" x2="89.3" y1="211.35" y2="211.35"/>
<line x1="227.5" x2="227.5" y1="309.00" y2="316.60" stroke-width="2.6"/>
<line x1="434.5" x2="434.5" y1="309.00" y2="316.60" stroke-width="2.6"/>
<line x1="641.8" x2="641.8" y1="309.00" y2="316.60" stroke-width="2.6"/>
<line x1="81.7" x2="89.3" y1="316.60" y2="316.60"/>
<line x1="227.5" x2="227.5" y1="414.25" y2="421.85" stroke-width="2.6"/>
<line x1="434.5" x2="434.5" y1="414.25" y2="421.85" stroke-width="2.6"/>
<line x1="641.8" x2="641.8" y1="414.25" y2="421.85" stroke-width="2.6"/>
<line x1="81.7" x2="89.3" y1="421.85" y2="421.85"/>
<line x1="227.5" x2="227.5" y1="519.50" y2="527.10" stroke-width="2.6"/>
<line x1="434.5" x2="434.5" y1="519.50" y2="527.10" stroke-width="2.6"/>
<line x1="641.8" x2="641.8" y1="519.50" y2="527.10" stroke-width="2.6"/>
<line x1="81.7" x2="89.3" y1="527.10" y2="527.10"/>
<line x1="227.5" x2="227.5" y1="624.75" y2="632.35" stroke-width="2.6"/>
<line x1="434.5" x2="434.5" y1="624.75" y2="632.35" stroke-width="2.6"/>
<line x1="641.8" x2="641.8" y1="624.75" y2="632.35" stroke-width="2.6"/>
<line x1="81.7" x2="89.3" y1="632.35" y2="632.35"/>
<line x1="227.5" x2="227.5" y1="730.00" y2="737.60" stroke-width="2.6"/>
<line x1="434.5" x2="434.5" y1="730.00" y2="737.60" stroke-width="2.6"/>
<line x1="641.8" x2="641.8" y1="730.00" y2="737.60" stroke-width="2.6"/>
<line x1="81.7" x2="89.3" y1="737.60" y2="737.60"/>
</g>
<g id="panel-labels" font-size="30.7" text-anchor="end">
<text transform="translate(218.9 25.9) scale(1 1.025)">4.3 nm</text>
<text transform="translate(296.5 25.9) scale(1 1.025)">3.2</text>
<text transform="translate(383.6 25.9) scale(1 1.025)">2.9</text>
<text transform="translate(588.4 25.9) scale(1 1.025)">2.1</text>
<text transform="translate(180.4 131.1) scale(1 1.025)">4.8 nm</text>
<text transform="translate(316.0 131.1) scale(1 1.025)">3.3</text>
<text transform="translate(444.1 131.1) scale(1 1.025)">2.5</text>
<text transform="translate(604.3 131.1) scale(1 1.025)">2.0</text>
<text transform="translate(196.5 236.3) scale(1 1.025)">4.8 nm</text>
<text transform="translate(273.1 236.3) scale(1 1.025)">3.8</text>
<text transform="translate(359.4 236.3) scale(1 1.025)">3.1</text>
<text transform="translate(434.2 236.3) scale(1 1.025)">2.8</text>
<text transform="translate(500.4 236.3) scale(1 1.025)">2.4</text>
<text transform="translate(632.7 236.3) scale(1 1.025)">2.1</text>
<text transform="translate(179.9 341.6) scale(1 1.025)">5.0 nm</text>
<text transform="translate(258.6 341.6) scale(1 1.025)">4.0</text>
<text transform="translate(343.1 341.6) scale(1 1.025)">3.3</text>
<text transform="translate(476.1 341.6) scale(1 1.025)">2.5</text>
<text transform="translate(550.7 341.6) scale(1 1.025)">2.2</text>
<text transform="translate(179.9 446.9) scale(1 1.025)">5.1 nm</text>
<text transform="translate(258.6 446.9) scale(1 1.025)">4.0</text>
<text transform="translate(340.1 446.9) scale(1 1.025)">3.3</text>
<text transform="translate(475.1 446.9) scale(1 1.025)">2.5</text>
<text transform="translate(548.4 446.9) scale(1 1.025)">2.2</text>
<text transform="translate(201.8 552.1) scale(1 1.025)">4.7 nm</text>
<text transform="translate(271.2 552.1) scale(1 1.025)">3.9</text>
<text transform="translate(341.1 552.1) scale(1 1.025)">3.3</text>
<text transform="translate(448.4 552.1) scale(1 1.025)">2.6</text>
<text transform="translate(547.7 552.1) scale(1 1.025)">2.3</text>
<text transform="translate(610.8 552.1) scale(1 1.025)">2.1</text>
<text transform="translate(237.7 657.4) scale(1 1.025)">4.7 nm</text>
<text transform="translate(302.9 657.4) scale(1 1.025)">3.9</text>
<text transform="translate(406.1 657.4) scale(1 1.025)">3.1</text>
<text transform="translate(523.2 657.4) scale(1 1.025)">2.5</text>
</g>
<g id="ytick" font-size="41.0" text-anchor="end">
<text transform="translate(74.0 120.4) scale(1 1.025)">0</text>
<text transform="translate(74.0 225.7) scale(1 1.025)">0</text>
<text transform="translate(74.0 330.9) scale(1 1.025)">0</text>
<text transform="translate(74.0 436.2) scale(1 1.025)">0</text>
<text transform="translate(74.0 541.4) scale(1 1.025)">0</text>
<text transform="translate(74.0 646.6) scale(1 1.025)">0</text>
<text transform="translate(74.0 751.9) scale(1 1.025)">0</text>
</g>
<g id="xtick" font-size="41.0" text-anchor="middle">
<text transform="translate(227.25 773.3) scale(0.97 1.01)">2.0</text>
<text transform="translate(433.60 773.3) scale(0.97 1.01)">2.5</text>
<text transform="translate(642.00 773.3) scale(0.97 1.01)">3.0</text>
</g>
<text id="xlabel" x="329.6" y="811.6" font-size="41.0"><tspan font-style="italic">E</tspan><tspan font-size="27" dy="5.5" dx="-1.0">g</tspan><tspan dy="-5.5" dx="2.9" letter-spacing="-0.9"> (eV)</tspan></text>
<text id="ylabel" transform="translate(28 369.4) rotate(-90)" font-size="41.0" text-anchor="middle" letter-spacing="-0.4">Distribution</text>
</svg></body></html>
